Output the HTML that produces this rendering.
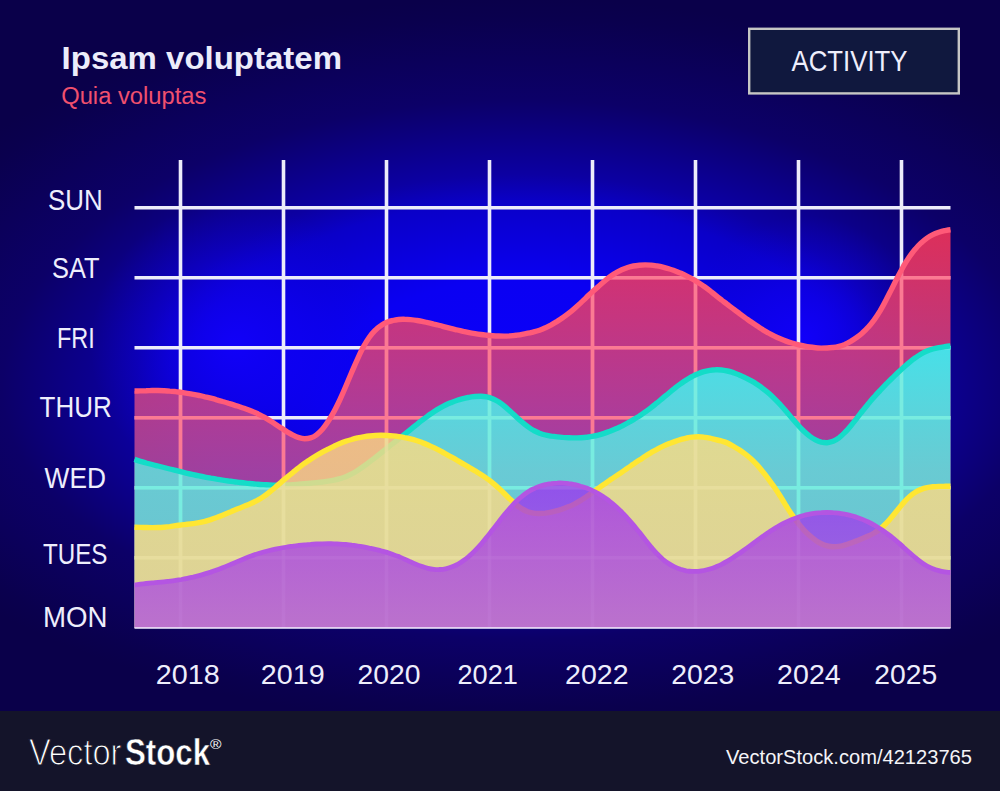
<!DOCTYPE html>
<html><head><meta charset="utf-8"><title>Activity chart</title>
<style>
html,body{margin:0;padding:0;background:#14142a;}
svg{display:block;font-family:"Liberation Sans",sans-serif;}
</style></head><body>
<svg width="1000" height="791" viewBox="0 0 1000 791">
<defs>
<radialGradient id="bg" gradientUnits="userSpaceOnUse" cx="520" cy="390" r="700" gradientTransform="translate(0 390) scale(1 0.56) translate(0 -390)">
<stop offset="0" stop-color="#0b00fc"/><stop offset="0.28" stop-color="#0a00f2"/><stop offset="0.48" stop-color="#0a00c8"/><stop offset="0.55" stop-color="#0c00a2"/><stop offset="0.74" stop-color="#0c0068"/><stop offset="0.95" stop-color="#0a004e"/><stop offset="1" stop-color="#0a004a"/>
</radialGradient>
<radialGradient id="bg2" gradientUnits="userSpaceOnUse" cx="520" cy="390" r="700" gradientTransform="translate(0 390) scale(1 0.48) translate(0 -390)">
<stop offset="0" stop-color="#0b00fc"/><stop offset="0.28" stop-color="#0a00f2"/><stop offset="0.48" stop-color="#0a00c8"/><stop offset="0.55" stop-color="#0c00a2"/><stop offset="0.74" stop-color="#0c0068"/><stop offset="0.95" stop-color="#0a004e"/><stop offset="1" stop-color="#0a004a"/>
</radialGradient>
<linearGradient id="gp" gradientUnits="userSpaceOnUse" x1="0" y1="230" x2="0" y2="628">
<stop offset="0" stop-color="#f43458" stop-opacity="0.9"/><stop offset="0.6" stop-color="#b84a9a" stop-opacity="0.86"/><stop offset="1" stop-color="#a452ac" stop-opacity="0.82"/>
</linearGradient>
<linearGradient id="gc" gradientUnits="userSpaceOnUse" x1="0" y1="347" x2="0" y2="628">
<stop offset="0" stop-color="#40e9ee" stop-opacity="0.95"/><stop offset="0.44" stop-color="#5fe3dd" stop-opacity="0.85"/><stop offset="1" stop-color="#66dcd8" stop-opacity="0.82"/>
</linearGradient>
<linearGradient id="gy" gradientUnits="userSpaceOnUse" x1="0" y1="433" x2="0" y2="628">
<stop offset="0" stop-color="#fedc80" stop-opacity="0.8"/><stop offset="1" stop-color="#fad688" stop-opacity="0.8"/>
</linearGradient>
<linearGradient id="gv" gradientUnits="userSpaceOnUse" x1="0" y1="482" x2="0" y2="628">
<stop offset="0" stop-color="#9e2af2" stop-opacity="0.75"/><stop offset="1" stop-color="#af52df" stop-opacity="0.75"/>
</linearGradient>
<clipPath id="cp"><path d="M134.5,391.0C136.5,391.0 138.4,390.9 140.4,390.9C142.3,390.8 144.3,390.7 146.2,390.7C148.2,390.6 150.2,390.6 152.1,390.5C154.1,390.5 156.0,390.5 158.0,390.5C159.9,390.5 161.9,390.6 163.9,390.7C165.8,390.8 167.8,390.9 169.7,391.1C171.7,391.2 173.6,391.4 175.6,391.6C177.6,391.9 179.5,392.1 181.5,392.4C183.4,392.7 185.4,393.0 187.3,393.3C189.3,393.6 191.2,393.9 193.2,394.3C195.2,394.7 197.1,395.1 199.1,395.5C201.0,395.9 203.0,396.3 204.9,396.8C206.9,397.2 208.9,397.7 210.8,398.2C212.8,398.7 214.7,399.2 216.7,399.8C218.6,400.3 220.6,400.9 222.6,401.5C224.5,402.0 226.5,402.6 228.4,403.3C230.4,403.9 232.3,404.5 234.3,405.1C236.3,405.7 238.2,406.4 240.2,407.0C242.1,407.7 244.1,408.3 246.0,409.0C248.0,409.7 250.0,410.5 251.9,411.3C253.9,412.1 255.8,412.9 257.8,413.8C259.7,414.8 261.7,415.8 263.7,416.9C265.6,418.0 267.6,419.2 269.5,420.4C271.5,421.6 273.4,422.9 275.4,424.2C277.3,425.5 279.3,426.9 281.3,428.1C283.2,429.4 285.2,430.7 287.1,431.9C289.1,433.0 291.0,434.2 293.0,435.1C295.0,436.1 296.9,437.0 298.9,437.6C300.8,438.2 302.8,438.6 304.7,438.7C306.7,438.7 308.7,438.5 310.6,437.9C312.6,437.3 314.5,436.3 316.5,434.8C318.4,433.4 320.4,431.5 322.4,429.2C324.3,427.0 326.3,424.3 328.2,421.3C330.2,418.4 332.1,415.0 334.1,411.4C336.1,407.7 338.0,403.7 340.0,399.5C341.9,395.3 343.9,390.8 345.8,386.2C347.8,381.6 349.8,376.9 351.7,372.3C353.7,367.7 355.6,363.1 357.6,358.8C359.5,354.5 361.5,350.5 363.4,346.8C365.4,343.2 367.4,340.0 369.3,337.3C371.3,334.5 373.2,332.2 375.2,330.3C377.1,328.4 379.1,326.8 381.1,325.5C383.0,324.2 385.0,323.1 386.9,322.3C388.9,321.5 390.8,320.9 392.8,320.5C394.8,320.0 396.7,319.7 398.7,319.5C400.6,319.3 402.6,319.2 404.5,319.3C406.5,319.3 408.5,319.4 410.4,319.6C412.4,319.8 414.3,320.0 416.3,320.4C418.2,320.7 420.2,321.0 422.2,321.4C424.1,321.8 426.1,322.2 428.0,322.7C430.0,323.1 431.9,323.6 433.9,324.1C435.9,324.5 437.8,325.0 439.8,325.5C441.7,326.0 443.7,326.6 445.6,327.1C447.6,327.6 449.6,328.1 451.5,328.6C453.5,329.1 455.4,329.5 457.4,330.0C459.3,330.5 461.3,330.9 463.2,331.4C465.2,331.8 467.2,332.2 469.1,332.6C471.1,333.0 473.0,333.3 475.0,333.6C476.9,334.0 478.9,334.3 480.9,334.5C482.8,334.8 484.8,335.0 486.7,335.2C488.7,335.4 490.6,335.6 492.6,335.7C494.6,335.9 496.5,336.0 498.5,336.0C500.4,336.1 502.4,336.1 504.3,336.1C506.3,336.1 508.3,336.0 510.2,335.9C512.2,335.7 514.1,335.5 516.1,335.3C518.0,335.0 520.0,334.7 522.0,334.3C523.9,334.0 525.9,333.6 527.8,333.2C529.8,332.9 531.7,332.4 533.7,331.9C535.7,331.4 537.6,330.9 539.6,330.2C541.5,329.5 543.5,328.7 545.4,327.8C547.4,326.8 549.3,325.8 551.3,324.8C553.3,323.7 555.2,322.6 557.2,321.4C559.1,320.2 561.1,318.9 563.0,317.5C565.0,316.2 567.0,314.7 568.9,313.2C570.9,311.6 572.8,310.0 574.8,308.2C576.7,306.5 578.7,304.7 580.7,302.9C582.6,301.0 584.6,299.2 586.5,297.3C588.5,295.5 590.4,293.6 592.4,291.8C594.4,290.0 596.3,288.3 598.3,286.6C600.2,284.8 602.2,283.1 604.1,281.5C606.1,279.8 608.1,278.2 610.0,276.7C612.0,275.3 613.9,273.9 615.9,272.8C617.8,271.6 619.8,270.6 621.8,269.7C623.7,268.9 625.7,268.2 627.6,267.5C629.6,266.9 631.5,266.4 633.5,266.0C635.4,265.6 637.4,265.4 639.4,265.2C641.3,265.0 643.3,264.9 645.2,264.9C647.2,264.9 649.1,265.0 651.1,265.1C653.1,265.3 655.0,265.6 657.0,265.9C658.9,266.2 660.9,266.6 662.8,267.1C664.8,267.6 666.8,268.1 668.7,268.7C670.7,269.3 672.6,270.0 674.6,270.7C676.5,271.4 678.5,272.2 680.5,273.1C682.4,273.9 684.4,274.8 686.3,275.8C688.3,276.8 690.2,277.8 692.2,278.9C694.2,280.0 696.1,281.1 698.1,282.4C700.0,283.6 702.0,284.8 703.9,286.3C705.9,287.7 707.9,289.2 709.8,290.7C711.8,292.3 713.7,293.9 715.7,295.4C717.6,297.0 719.6,298.5 721.6,300.0C723.5,301.5 725.5,303.0 727.4,304.5C729.4,306.0 731.3,307.5 733.3,308.9C735.2,310.4 737.2,311.9 739.2,313.3C741.1,314.8 743.1,316.2 745.0,317.6C747.0,319.0 748.9,320.4 750.9,321.8C752.9,323.2 754.8,324.5 756.8,325.8C758.7,327.1 760.7,328.3 762.6,329.6C764.6,330.8 766.6,331.9 768.5,333.0C770.5,334.1 772.4,335.1 774.4,336.1C776.3,337.1 778.3,338.0 780.3,338.8C782.2,339.6 784.2,340.4 786.1,341.1C788.1,341.8 790.0,342.4 792.0,343.0C794.0,343.6 795.9,344.1 797.9,344.6C799.8,345.1 801.8,345.5 803.7,345.9C805.7,346.3 807.7,346.7 809.6,347.0C811.6,347.3 813.5,347.5 815.5,347.7C817.4,347.9 819.4,348.0 821.3,348.1C823.3,348.1 825.3,348.1 827.2,348.0C829.2,347.9 831.1,347.7 833.1,347.5C835.0,347.2 837.0,346.8 839.0,346.3C840.9,345.8 842.9,345.2 844.8,344.4C846.8,343.5 848.7,342.5 850.7,341.4C852.7,340.2 854.6,338.9 856.6,337.5C858.5,336.1 860.5,334.6 862.4,332.9C864.4,331.2 866.4,329.3 868.3,327.1C870.3,325.0 872.2,322.6 874.2,319.9C876.1,317.2 878.1,314.2 880.1,310.9C882.0,307.6 884.0,304.0 885.9,300.2C887.9,296.5 889.8,292.6 891.8,288.7C893.8,284.8 895.7,280.9 897.7,277.1C899.6,273.3 901.6,269.6 903.5,266.2C905.5,262.8 907.4,259.7 909.4,256.8C911.4,254.0 913.3,251.4 915.3,249.1C917.2,246.8 919.2,244.7 921.1,242.9C923.1,241.1 925.1,239.5 927.0,238.1C929.0,236.7 930.9,235.6 932.9,234.6C934.8,233.6 936.8,232.9 938.8,232.2C940.7,231.6 942.7,231.1 944.6,230.7C946.6,230.3 948.5,229.9 950.5,229.7L950.5,628.0L134.5,628.0Z"/></clipPath><clipPath id="cc"><path d="M134.5,459.4C136.5,460.1 138.4,460.7 140.4,461.3C142.3,461.9 144.3,462.4 146.2,463.0C148.2,463.5 150.2,464.0 152.1,464.5C154.1,465.1 156.0,465.5 158.0,466.0C159.9,466.5 161.9,467.0 163.9,467.5C165.8,468.0 167.8,468.5 169.7,469.0C171.7,469.5 173.6,469.9 175.6,470.4C177.6,470.9 179.5,471.4 181.5,471.9C183.4,472.4 185.4,472.8 187.3,473.3C189.3,473.8 191.2,474.2 193.2,474.6C195.2,475.1 197.1,475.5 199.1,475.9C201.0,476.3 203.0,476.7 204.9,477.1C206.9,477.5 208.9,477.8 210.8,478.2C212.8,478.5 214.7,478.8 216.7,479.2C218.6,479.5 220.6,479.8 222.6,480.1C224.5,480.4 226.5,480.7 228.4,481.0C230.4,481.2 232.3,481.5 234.3,481.8C236.3,482.0 238.2,482.3 240.2,482.5C242.1,482.7 244.1,482.9 246.0,483.1C248.0,483.4 250.0,483.5 251.9,483.7C253.9,483.9 255.8,484.1 257.8,484.2C259.7,484.4 261.7,484.5 263.7,484.6C265.6,484.7 267.6,484.8 269.5,484.9C271.5,485.0 273.4,485.1 275.4,485.1C277.3,485.1 279.3,485.1 281.3,485.1C283.2,485.1 285.2,485.1 287.1,485.0C289.1,484.9 291.0,484.8 293.0,484.7C295.0,484.6 296.9,484.5 298.9,484.3C300.8,484.2 302.8,484.0 304.7,483.8C306.7,483.6 308.7,483.4 310.6,483.2C312.6,483.0 314.5,482.8 316.5,482.6C318.4,482.4 320.4,482.2 322.4,482.0C324.3,481.8 326.3,481.5 328.2,481.2C330.2,480.9 332.1,480.6 334.1,480.2C336.1,479.8 338.0,479.3 340.0,478.7C341.9,478.1 343.9,477.5 345.8,476.7C347.8,475.9 349.8,474.9 351.7,473.9C353.7,472.8 355.6,471.7 357.6,470.4C359.5,469.2 361.5,467.9 363.4,466.5C365.4,465.1 367.4,463.6 369.3,462.1C371.3,460.6 373.2,459.1 375.2,457.6C377.1,456.0 379.1,454.5 381.1,452.9C383.0,451.4 385.0,449.8 386.9,448.3C388.9,446.7 390.8,445.2 392.8,443.7C394.8,442.1 396.7,440.6 398.7,439.0C400.6,437.4 402.6,435.9 404.5,434.3C406.5,432.7 408.5,431.2 410.4,429.6C412.4,428.0 414.3,426.4 416.3,424.8C418.2,423.3 420.2,421.7 422.2,420.2C424.1,418.7 426.1,417.2 428.0,415.8C430.0,414.4 431.9,413.0 433.9,411.7C435.9,410.4 437.8,409.2 439.8,408.1C441.7,407.0 443.7,405.9 445.6,405.0C447.6,404.0 449.6,403.2 451.5,402.4C453.5,401.6 455.4,400.9 457.4,400.2C459.3,399.6 461.3,399.1 463.2,398.6C465.2,398.1 467.2,397.7 469.1,397.3C471.1,396.9 473.0,396.7 475.0,396.5C476.9,396.3 478.9,396.2 480.9,396.2C482.8,396.2 484.8,396.5 486.7,396.9C488.7,397.3 490.6,397.9 492.6,398.7C494.6,399.6 496.5,400.6 498.5,401.8C500.4,403.1 502.4,404.5 504.3,406.1C506.3,407.8 508.3,409.5 510.2,411.3C512.2,413.1 514.1,414.9 516.1,416.7C518.0,418.5 520.0,420.3 522.0,422.0C523.9,423.7 525.9,425.3 527.8,426.7C529.8,428.2 531.7,429.4 533.7,430.5C535.7,431.5 537.6,432.4 539.6,433.2C541.5,433.9 543.5,434.5 545.4,435.0C547.4,435.5 549.3,435.8 551.3,436.2C553.3,436.5 555.2,436.7 557.2,436.9C559.1,437.1 561.1,437.2 563.0,437.4C565.0,437.5 567.0,437.6 568.9,437.7C570.9,437.8 572.8,437.9 574.8,437.9C576.7,437.9 578.7,437.8 580.7,437.7C582.6,437.6 584.6,437.5 586.5,437.3C588.5,437.0 590.4,436.8 592.4,436.4C594.4,436.0 596.3,435.6 598.3,435.1C600.2,434.6 602.2,434.0 604.1,433.4C606.1,432.7 608.1,432.0 610.0,431.3C612.0,430.5 613.9,429.7 615.9,428.8C617.8,428.0 619.8,427.0 621.8,426.1C623.7,425.1 625.7,424.1 627.6,423.0C629.6,421.9 631.5,420.8 633.5,419.6C635.4,418.5 637.4,417.2 639.4,416.0C641.3,414.7 643.3,413.3 645.2,411.9C647.2,410.6 649.1,409.1 651.1,407.6C653.1,406.1 655.0,404.5 657.0,402.9C658.9,401.3 660.9,399.7 662.8,398.1C664.8,396.4 666.8,394.8 668.7,393.2C670.7,391.5 672.6,389.9 674.6,388.4C676.5,386.8 678.5,385.3 680.5,383.9C682.4,382.5 684.4,381.2 686.3,379.9C688.3,378.7 690.2,377.5 692.2,376.5C694.2,375.4 696.1,374.5 698.1,373.7C700.0,372.9 702.0,372.2 703.9,371.6C705.9,371.1 707.9,370.6 709.8,370.3C711.8,370.0 713.7,369.8 715.7,369.8C717.6,369.7 719.6,369.8 721.6,370.0C723.5,370.2 725.5,370.6 727.4,371.0C729.4,371.4 731.3,372.0 733.3,372.6C735.2,373.3 737.2,374.0 739.2,374.9C741.1,375.7 743.1,376.6 745.0,377.6C747.0,378.5 748.9,379.6 750.9,380.7C752.9,381.8 754.8,382.9 756.8,384.2C758.7,385.5 760.7,386.8 762.6,388.3C764.6,389.8 766.6,391.4 768.5,393.1C770.5,394.9 772.4,396.7 774.4,398.7C776.3,400.6 778.3,402.6 780.3,404.7C782.2,406.8 784.2,409.0 786.1,411.3C788.1,413.5 790.0,415.9 792.0,418.2C794.0,420.5 795.9,422.8 797.9,424.9C799.8,427.1 801.8,429.1 803.7,431.0C805.7,432.9 807.7,434.6 809.6,436.1C811.6,437.6 813.5,438.8 815.5,439.9C817.4,440.9 819.4,441.7 821.3,442.2C823.3,442.6 825.3,442.8 827.2,442.7C829.2,442.6 831.1,442.1 833.1,441.3C835.0,440.5 837.0,439.3 839.0,437.8C840.9,436.3 842.9,434.5 844.8,432.5C846.8,430.5 848.7,428.3 850.7,425.9C852.7,423.5 854.6,421.1 856.6,418.6C858.5,416.0 860.5,413.5 862.4,411.0C864.4,408.5 866.4,406.1 868.3,403.7C870.3,401.4 872.2,399.1 874.2,396.9C876.1,394.7 878.1,392.5 880.1,390.5C882.0,388.4 884.0,386.3 885.9,384.3C887.9,382.4 889.8,380.4 891.8,378.5C893.8,376.6 895.7,374.7 897.7,372.8C899.6,371.0 901.6,369.1 903.5,367.4C905.5,365.6 907.4,363.9 909.4,362.3C911.4,360.7 913.3,359.2 915.3,357.8C917.2,356.4 919.2,355.1 921.1,354.0C923.1,352.8 925.1,351.8 927.0,351.0C929.0,350.2 930.9,349.6 932.9,349.0C934.8,348.5 936.8,348.1 938.8,347.7C940.7,347.3 942.7,347.0 944.6,346.7C946.6,346.4 948.5,346.1 950.5,345.8L950.5,628.0L134.5,628.0Z"/></clipPath><clipPath id="cy"><path d="M134.5,527.3C136.5,527.3 138.4,527.3 140.4,527.4C142.3,527.4 144.3,527.5 146.2,527.5C148.2,527.6 150.2,527.6 152.1,527.6C154.1,527.6 156.0,527.6 158.0,527.5C159.9,527.5 161.9,527.4 163.9,527.2C165.8,527.0 167.8,526.8 169.7,526.6C171.7,526.3 173.6,526.0 175.6,525.7C177.6,525.4 179.5,525.2 181.5,524.9C183.4,524.7 185.4,524.5 187.3,524.3C189.3,524.1 191.2,523.9 193.2,523.6C195.2,523.4 197.1,523.1 199.1,522.7C201.0,522.4 203.0,521.9 204.9,521.4C206.9,520.8 208.9,520.2 210.8,519.6C212.8,518.9 214.7,518.2 216.7,517.5C218.6,516.8 220.6,516.0 222.6,515.2C224.5,514.4 226.5,513.6 228.4,512.8C230.4,512.0 232.3,511.2 234.3,510.3C236.3,509.5 238.2,508.7 240.2,507.9C242.1,507.1 244.1,506.4 246.0,505.6C248.0,504.8 250.0,503.9 251.9,503.0C253.9,502.2 255.8,501.3 257.8,500.2C259.7,499.1 261.7,497.9 263.7,496.5C265.6,495.2 267.6,493.7 269.5,492.1C271.5,490.5 273.4,488.9 275.4,487.2C277.3,485.5 279.3,483.8 281.3,482.1C283.2,480.4 285.2,478.8 287.1,477.2C289.1,475.6 291.0,473.9 293.0,472.4C295.0,470.8 296.9,469.2 298.9,467.7C300.8,466.1 302.8,464.6 304.7,463.2C306.7,461.8 308.7,460.5 310.6,459.2C312.6,457.9 314.5,456.7 316.5,455.5C318.4,454.4 320.4,453.3 322.4,452.2C324.3,451.1 326.3,450.1 328.2,449.1C330.2,448.1 332.1,447.1 334.1,446.2C336.1,445.2 338.0,444.4 340.0,443.6C341.9,442.8 343.9,442.0 345.8,441.3C347.8,440.6 349.8,440.0 351.7,439.5C353.7,438.9 355.6,438.4 357.6,437.9C359.5,437.5 361.5,437.1 363.4,436.8C365.4,436.5 367.4,436.2 369.3,436.0C371.3,435.8 373.2,435.6 375.2,435.5C377.1,435.4 379.1,435.3 381.1,435.3C383.0,435.3 385.0,435.4 386.9,435.5C388.9,435.6 390.8,435.7 392.8,435.9C394.8,436.1 396.7,436.3 398.7,436.6C400.6,436.9 402.6,437.2 404.5,437.6C406.5,437.9 408.5,438.4 410.4,438.9C412.4,439.4 414.3,439.9 416.3,440.5C418.2,441.1 420.2,441.8 422.2,442.6C424.1,443.3 426.1,444.1 428.0,445.0C430.0,445.9 431.9,446.8 433.9,447.7C435.9,448.7 437.8,449.7 439.8,450.7C441.7,451.7 443.7,452.8 445.6,453.8C447.6,454.9 449.6,456.0 451.5,457.1C453.5,458.2 455.4,459.3 457.4,460.5C459.3,461.6 461.3,462.7 463.2,463.9C465.2,465.0 467.2,466.2 469.1,467.4C471.1,468.5 473.0,469.7 475.0,470.8C476.9,472.0 478.9,473.2 480.9,474.5C482.8,475.7 484.8,477.0 486.7,478.4C488.7,479.8 490.6,481.2 492.6,482.8C494.6,484.4 496.5,486.1 498.5,487.9C500.4,489.7 502.4,491.6 504.3,493.5C506.3,495.5 508.3,497.4 510.2,499.3C512.2,501.1 514.1,502.9 516.1,504.6C518.0,506.2 520.0,507.7 522.0,508.9C523.9,510.1 525.9,511.0 527.8,511.7C529.8,512.4 531.7,512.9 533.7,513.2C535.7,513.5 537.6,513.6 539.6,513.5C541.5,513.5 543.5,513.3 545.4,513.1C547.4,512.8 549.3,512.5 551.3,512.1C553.3,511.7 555.2,511.2 557.2,510.7C559.1,510.1 561.1,509.5 563.0,508.8C565.0,508.2 567.0,507.4 568.9,506.6C570.9,505.7 572.8,504.8 574.8,503.8C576.7,502.7 578.7,501.6 580.7,500.4C582.6,499.2 584.6,498.0 586.5,496.6C588.5,495.3 590.4,493.9 592.4,492.5C594.4,491.1 596.3,489.7 598.3,488.3C600.2,486.9 602.2,485.5 604.1,484.2C606.1,482.8 608.1,481.5 610.0,480.1C612.0,478.8 613.9,477.5 615.9,476.1C617.8,474.8 619.8,473.5 621.8,472.2C623.7,470.8 625.7,469.5 627.6,468.1C629.6,466.8 631.5,465.4 633.5,464.1C635.4,462.7 637.4,461.4 639.4,460.1C641.3,458.8 643.3,457.5 645.2,456.2C647.2,455.0 649.1,453.8 651.1,452.6C653.1,451.5 655.0,450.4 657.0,449.4C658.9,448.3 660.9,447.3 662.8,446.4C664.8,445.5 666.8,444.6 668.7,443.8C670.7,443.0 672.6,442.3 674.6,441.6C676.5,440.9 678.5,440.2 680.5,439.6C682.4,439.1 684.4,438.5 686.3,438.1C688.3,437.7 690.2,437.3 692.2,437.1C694.2,436.9 696.1,436.8 698.1,436.8C700.0,436.8 702.0,436.9 703.9,437.2C705.9,437.4 707.9,437.7 709.8,438.1C711.8,438.5 713.7,439.1 715.7,439.6C717.6,440.2 719.6,440.5 721.6,441.0C723.5,441.5 725.5,442.0 727.4,443.0C729.4,444.0 731.3,445.1 733.3,446.3C735.2,447.4 737.2,448.6 739.2,449.8C741.1,451.1 743.1,452.5 745.0,453.9C747.0,455.4 748.9,457.0 750.9,458.8C752.9,460.6 754.8,462.5 756.8,464.6C758.7,466.7 760.7,469.0 762.6,471.5C764.6,473.9 766.6,476.5 768.5,479.1C770.5,481.8 772.4,484.5 774.4,487.3C776.3,490.1 778.3,493.1 780.3,496.2C782.2,499.4 784.2,502.6 786.1,505.8C788.1,508.9 790.0,512.0 792.0,514.9C794.0,517.8 795.9,520.3 797.9,522.8C799.8,525.3 801.8,527.6 803.7,529.8C805.7,531.9 807.7,533.9 809.6,535.6C811.6,537.4 813.5,539.0 815.5,540.3C817.4,541.7 819.4,542.8 821.3,543.7C823.3,544.7 825.3,545.4 827.2,545.9C829.2,546.4 831.1,546.7 833.1,546.8C835.0,546.8 837.0,546.7 839.0,546.4C840.9,546.1 842.9,545.7 844.8,545.1C846.8,544.5 848.7,543.9 850.7,543.1C852.7,542.4 854.6,541.6 856.6,540.9C858.5,540.1 860.5,539.3 862.4,538.5C864.4,537.7 866.4,536.9 868.3,536.0C870.3,535.1 872.2,534.1 874.2,533.0C876.1,531.8 878.1,530.5 880.1,529.0C882.0,527.4 884.0,525.7 885.9,523.6C887.9,521.6 889.8,519.4 891.8,517.0C893.8,514.7 895.7,512.2 897.7,509.8C899.6,507.4 901.6,505.0 903.5,502.7C905.5,500.5 907.4,498.4 909.4,496.7C911.4,494.9 913.3,493.4 915.3,492.2C917.2,491.0 919.2,490.1 921.1,489.4C923.1,488.6 925.1,488.1 927.0,487.7C929.0,487.3 930.9,487.0 932.9,486.8C934.8,486.7 936.8,486.5 938.8,486.4C940.7,486.3 942.7,486.3 944.6,486.3C946.6,486.2 948.5,486.3 950.5,486.3L950.5,628.0L134.5,628.0Z"/></clipPath><clipPath id="cv"><path d="M134.5,585.0C136.5,584.7 138.4,584.4 140.4,584.1C142.3,583.9 144.3,583.7 146.2,583.5C148.2,583.3 150.2,583.1 152.1,582.9C154.1,582.7 156.0,582.6 158.0,582.4C159.9,582.2 161.9,582.0 163.9,581.8C165.8,581.7 167.8,581.4 169.7,581.2C171.7,580.9 173.6,580.7 175.6,580.4C177.6,580.1 179.5,579.8 181.5,579.5C183.4,579.1 185.4,578.7 187.3,578.3C189.3,577.9 191.2,577.5 193.2,577.1C195.2,576.6 197.1,576.1 199.1,575.6C201.0,575.1 203.0,574.5 204.9,573.9C206.9,573.3 208.9,572.7 210.8,572.1C212.8,571.4 214.7,570.7 216.7,570.0C218.6,569.3 220.6,568.6 222.6,567.8C224.5,567.0 226.5,566.2 228.4,565.4C230.4,564.6 232.3,563.7 234.3,562.9C236.3,562.1 238.2,561.2 240.2,560.4C242.1,559.6 244.1,558.8 246.0,558.0C248.0,557.2 250.0,556.5 251.9,555.8C253.9,555.1 255.8,554.4 257.8,553.8C259.7,553.2 261.7,552.6 263.7,552.0C265.6,551.5 267.6,551.0 269.5,550.5C271.5,550.0 273.4,549.6 275.4,549.2C277.3,548.8 279.3,548.4 281.3,548.0C283.2,547.7 285.2,547.3 287.1,547.0C289.1,546.7 291.0,546.4 293.0,546.2C295.0,545.9 296.9,545.7 298.9,545.4C300.8,545.2 302.8,545.0 304.7,544.8C306.7,544.7 308.7,544.5 310.6,544.4C312.6,544.2 314.5,544.1 316.5,544.0C318.4,543.9 320.4,543.8 322.4,543.8C324.3,543.7 326.3,543.7 328.2,543.7C330.2,543.7 332.1,543.8 334.1,543.8C336.1,543.9 338.0,544.0 340.0,544.1C341.9,544.2 343.9,544.4 345.8,544.5C347.8,544.7 349.8,544.9 351.7,545.2C353.7,545.4 355.6,545.7 357.6,546.0C359.5,546.3 361.5,546.6 363.4,546.9C365.4,547.3 367.4,547.7 369.3,548.1C371.3,548.4 373.2,548.9 375.2,549.3C377.1,549.8 379.1,550.2 381.1,550.8C383.0,551.3 385.0,551.8 386.9,552.4C388.9,553.0 390.8,553.7 392.8,554.4C394.8,555.1 396.7,555.8 398.7,556.6C400.6,557.4 402.6,558.2 404.5,559.1C406.5,560.0 408.5,560.9 410.4,561.8C412.4,562.7 414.3,563.5 416.3,564.4C418.2,565.2 420.2,565.9 422.2,566.6C424.1,567.3 426.1,567.9 428.0,568.3C430.0,568.8 431.9,569.1 433.9,569.3C435.9,569.5 437.8,569.6 439.8,569.5C441.7,569.4 443.7,569.2 445.6,568.8C447.6,568.4 449.6,567.8 451.5,567.1C453.5,566.4 455.4,565.5 457.4,564.5C459.3,563.4 461.3,562.2 463.2,560.8C465.2,559.4 467.2,557.9 469.1,556.2C471.1,554.5 473.0,552.6 475.0,550.6C476.9,548.7 478.9,546.6 480.9,544.3C482.8,542.1 484.8,539.8 486.7,537.3C488.7,534.9 490.6,532.3 492.6,529.8C494.6,527.2 496.5,524.7 498.5,522.2C500.4,519.7 502.4,517.2 504.3,514.8C506.3,512.4 508.3,510.1 510.2,507.9C512.2,505.7 514.1,503.5 516.1,501.6C518.0,499.6 520.0,497.8 522.0,496.3C523.9,494.7 525.9,493.3 527.8,492.0C529.8,490.8 531.7,489.7 533.7,488.8C535.7,487.8 537.6,487.0 539.6,486.3C541.5,485.7 543.5,485.1 545.4,484.6C547.4,484.2 549.3,483.8 551.3,483.6C553.3,483.3 555.2,483.1 557.2,483.1C559.1,483.0 561.1,483.0 563.0,483.1C565.0,483.2 567.0,483.4 568.9,483.7C570.9,483.9 572.8,484.3 574.8,484.7C576.7,485.1 578.7,485.6 580.7,486.2C582.6,486.7 584.6,487.4 586.5,488.1C588.5,488.8 590.4,489.7 592.4,490.6C594.4,491.5 596.3,492.5 598.3,493.6C600.2,494.7 602.2,496.0 604.1,497.3C606.1,498.6 608.1,500.0 610.0,501.6C612.0,503.1 613.9,504.8 615.9,506.5C617.8,508.3 619.8,510.2 621.8,512.1C623.7,514.1 625.7,516.1 627.6,518.3C629.6,520.5 631.5,522.7 633.5,525.1C635.4,527.4 637.4,529.9 639.4,532.3C641.3,534.8 643.3,537.3 645.2,539.8C647.2,542.3 649.1,544.7 651.1,547.1C653.1,549.4 655.0,551.7 657.0,553.7C658.9,555.8 660.9,557.6 662.8,559.3C664.8,560.9 666.8,562.4 668.7,563.6C670.7,564.9 672.6,566.0 674.6,566.9C676.5,567.8 678.5,568.6 680.5,569.3C682.4,569.9 684.4,570.4 686.3,570.8C688.3,571.1 690.2,571.3 692.2,571.4C694.2,571.5 696.1,571.5 698.1,571.3C700.0,571.1 702.0,570.9 703.9,570.5C705.9,570.1 707.9,569.6 709.8,569.0C711.8,568.4 713.7,567.7 715.7,566.9C717.6,566.1 719.6,565.3 721.6,564.3C723.5,563.3 725.5,562.2 727.4,561.1C729.4,560.0 731.3,558.8 733.3,557.5C735.2,556.2 737.2,554.9 739.2,553.6C741.1,552.2 743.1,550.8 745.0,549.4C747.0,548.0 748.9,546.6 750.9,545.1C752.9,543.7 754.8,542.2 756.8,540.8C758.7,539.4 760.7,537.9 762.6,536.5C764.6,535.1 766.6,533.8 768.5,532.4C770.5,531.1 772.4,529.8 774.4,528.6C776.3,527.4 778.3,526.2 780.3,525.1C782.2,524.0 784.2,523.0 786.1,522.1C788.1,521.1 790.0,520.3 792.0,519.5C794.0,518.7 795.9,518.0 797.9,517.3C799.8,516.7 801.8,516.1 803.7,515.5C805.7,515.0 807.7,514.6 809.6,514.2C811.6,513.8 813.5,513.5 815.5,513.2C817.4,513.0 819.4,512.8 821.3,512.7C823.3,512.5 825.3,512.5 827.2,512.5C829.2,512.5 831.1,512.5 833.1,512.7C835.0,512.8 837.0,513.0 839.0,513.2C840.9,513.5 842.9,513.8 844.8,514.2C846.8,514.5 848.7,515.0 850.7,515.5C852.7,516.0 854.6,516.6 856.6,517.2C858.5,517.9 860.5,518.6 862.4,519.4C864.4,520.2 866.4,521.1 868.3,522.0C870.3,523.0 872.2,524.0 874.2,525.1C876.1,526.2 878.1,527.4 880.1,528.7C882.0,530.0 884.0,531.3 885.9,532.7C887.9,534.1 889.8,535.6 891.8,537.1C893.8,538.7 895.7,540.3 897.7,542.0C899.6,543.7 901.6,545.4 903.5,547.2C905.5,549.0 907.4,550.8 909.4,552.5C911.4,554.3 913.3,556.0 915.3,557.6C917.2,559.3 919.2,560.8 921.1,562.2C923.1,563.7 925.1,564.9 927.0,566.0C929.0,567.1 930.9,568.1 932.9,568.8C934.8,569.6 936.8,570.2 938.8,570.7C940.7,571.2 942.7,571.6 944.6,571.9C946.6,572.2 948.5,572.3 950.5,572.5L950.5,628.0L134.5,628.0Z"/></clipPath>
<radialGradient id="gl" gradientUnits="userSpaceOnUse" cx="0" cy="0" r="170"><stop offset="0" stop-color="#1200ff" stop-opacity="0.85"/><stop offset="0.45" stop-color="#1000f8" stop-opacity="0.5"/><stop offset="1" stop-color="#0c00e0" stop-opacity="0"/></radialGradient>
</defs>
<rect x="0" y="0" width="1000" height="391" fill="url(#bg)"/><rect x="0" y="390" width="1000" height="322" fill="url(#bg2)"/>
<circle cx="0" cy="0" r="170" fill="url(#gl)" transform="translate(235 345) scale(0.85)"/><circle cx="0" cy="0" r="170" fill="url(#gl)" transform="translate(805 338) scale(0.72)"/>
<g stroke="#ececfa" stroke-width="3.6" stroke-linecap="butt"><line x1="180.5" y1="160" x2="180.5" y2="628.0"/><line x1="283.5" y1="160" x2="283.5" y2="628.0"/><line x1="386.5" y1="160" x2="386.5" y2="628.0"/><line x1="489.5" y1="160" x2="489.5" y2="628.0"/><line x1="592.5" y1="160" x2="592.5" y2="628.0"/><line x1="695.5" y1="160" x2="695.5" y2="628.0"/><line x1="798.5" y1="160" x2="798.5" y2="628.0"/><line x1="901.5" y1="160" x2="901.5" y2="628.0"/><line x1="134.5" y1="207.7" x2="950.5" y2="207.7"/><line x1="134.5" y1="277.7" x2="950.5" y2="277.7"/><line x1="134.5" y1="347.7" x2="950.5" y2="347.7"/><line x1="134.5" y1="417.7" x2="950.5" y2="417.7"/><line x1="134.5" y1="487.7" x2="950.5" y2="487.7"/><line x1="134.5" y1="557.7" x2="950.5" y2="557.7"/></g>
<path d="M134.5,391.0C136.5,391.0 138.4,390.9 140.4,390.9C142.3,390.8 144.3,390.7 146.2,390.7C148.2,390.6 150.2,390.6 152.1,390.5C154.1,390.5 156.0,390.5 158.0,390.5C159.9,390.5 161.9,390.6 163.9,390.7C165.8,390.8 167.8,390.9 169.7,391.1C171.7,391.2 173.6,391.4 175.6,391.6C177.6,391.9 179.5,392.1 181.5,392.4C183.4,392.7 185.4,393.0 187.3,393.3C189.3,393.6 191.2,393.9 193.2,394.3C195.2,394.7 197.1,395.1 199.1,395.5C201.0,395.9 203.0,396.3 204.9,396.8C206.9,397.2 208.9,397.7 210.8,398.2C212.8,398.7 214.7,399.2 216.7,399.8C218.6,400.3 220.6,400.9 222.6,401.5C224.5,402.0 226.5,402.6 228.4,403.3C230.4,403.9 232.3,404.5 234.3,405.1C236.3,405.7 238.2,406.4 240.2,407.0C242.1,407.7 244.1,408.3 246.0,409.0C248.0,409.7 250.0,410.5 251.9,411.3C253.9,412.1 255.8,412.9 257.8,413.8C259.7,414.8 261.7,415.8 263.7,416.9C265.6,418.0 267.6,419.2 269.5,420.4C271.5,421.6 273.4,422.9 275.4,424.2C277.3,425.5 279.3,426.9 281.3,428.1C283.2,429.4 285.2,430.7 287.1,431.9C289.1,433.0 291.0,434.2 293.0,435.1C295.0,436.1 296.9,437.0 298.9,437.6C300.8,438.2 302.8,438.6 304.7,438.7C306.7,438.7 308.7,438.5 310.6,437.9C312.6,437.3 314.5,436.3 316.5,434.8C318.4,433.4 320.4,431.5 322.4,429.2C324.3,427.0 326.3,424.3 328.2,421.3C330.2,418.4 332.1,415.0 334.1,411.4C336.1,407.7 338.0,403.7 340.0,399.5C341.9,395.3 343.9,390.8 345.8,386.2C347.8,381.6 349.8,376.9 351.7,372.3C353.7,367.7 355.6,363.1 357.6,358.8C359.5,354.5 361.5,350.5 363.4,346.8C365.4,343.2 367.4,340.0 369.3,337.3C371.3,334.5 373.2,332.2 375.2,330.3C377.1,328.4 379.1,326.8 381.1,325.5C383.0,324.2 385.0,323.1 386.9,322.3C388.9,321.5 390.8,320.9 392.8,320.5C394.8,320.0 396.7,319.7 398.7,319.5C400.6,319.3 402.6,319.2 404.5,319.3C406.5,319.3 408.5,319.4 410.4,319.6C412.4,319.8 414.3,320.0 416.3,320.4C418.2,320.7 420.2,321.0 422.2,321.4C424.1,321.8 426.1,322.2 428.0,322.7C430.0,323.1 431.9,323.6 433.9,324.1C435.9,324.5 437.8,325.0 439.8,325.5C441.7,326.0 443.7,326.6 445.6,327.1C447.6,327.6 449.6,328.1 451.5,328.6C453.5,329.1 455.4,329.5 457.4,330.0C459.3,330.5 461.3,330.9 463.2,331.4C465.2,331.8 467.2,332.2 469.1,332.6C471.1,333.0 473.0,333.3 475.0,333.6C476.9,334.0 478.9,334.3 480.9,334.5C482.8,334.8 484.8,335.0 486.7,335.2C488.7,335.4 490.6,335.6 492.6,335.7C494.6,335.9 496.5,336.0 498.5,336.0C500.4,336.1 502.4,336.1 504.3,336.1C506.3,336.1 508.3,336.0 510.2,335.9C512.2,335.7 514.1,335.5 516.1,335.3C518.0,335.0 520.0,334.7 522.0,334.3C523.9,334.0 525.9,333.6 527.8,333.2C529.8,332.9 531.7,332.4 533.7,331.9C535.7,331.4 537.6,330.9 539.6,330.2C541.5,329.5 543.5,328.7 545.4,327.8C547.4,326.8 549.3,325.8 551.3,324.8C553.3,323.7 555.2,322.6 557.2,321.4C559.1,320.2 561.1,318.9 563.0,317.5C565.0,316.2 567.0,314.7 568.9,313.2C570.9,311.6 572.8,310.0 574.8,308.2C576.7,306.5 578.7,304.7 580.7,302.9C582.6,301.0 584.6,299.2 586.5,297.3C588.5,295.5 590.4,293.6 592.4,291.8C594.4,290.0 596.3,288.3 598.3,286.6C600.2,284.8 602.2,283.1 604.1,281.5C606.1,279.8 608.1,278.2 610.0,276.7C612.0,275.3 613.9,273.9 615.9,272.8C617.8,271.6 619.8,270.6 621.8,269.7C623.7,268.9 625.7,268.2 627.6,267.5C629.6,266.9 631.5,266.4 633.5,266.0C635.4,265.6 637.4,265.4 639.4,265.2C641.3,265.0 643.3,264.9 645.2,264.9C647.2,264.9 649.1,265.0 651.1,265.1C653.1,265.3 655.0,265.6 657.0,265.9C658.9,266.2 660.9,266.6 662.8,267.1C664.8,267.6 666.8,268.1 668.7,268.7C670.7,269.3 672.6,270.0 674.6,270.7C676.5,271.4 678.5,272.2 680.5,273.1C682.4,273.9 684.4,274.8 686.3,275.8C688.3,276.8 690.2,277.8 692.2,278.9C694.2,280.0 696.1,281.1 698.1,282.4C700.0,283.6 702.0,284.8 703.9,286.3C705.9,287.7 707.9,289.2 709.8,290.7C711.8,292.3 713.7,293.9 715.7,295.4C717.6,297.0 719.6,298.5 721.6,300.0C723.5,301.5 725.5,303.0 727.4,304.5C729.4,306.0 731.3,307.5 733.3,308.9C735.2,310.4 737.2,311.9 739.2,313.3C741.1,314.8 743.1,316.2 745.0,317.6C747.0,319.0 748.9,320.4 750.9,321.8C752.9,323.2 754.8,324.5 756.8,325.8C758.7,327.1 760.7,328.3 762.6,329.6C764.6,330.8 766.6,331.9 768.5,333.0C770.5,334.1 772.4,335.1 774.4,336.1C776.3,337.1 778.3,338.0 780.3,338.8C782.2,339.6 784.2,340.4 786.1,341.1C788.1,341.8 790.0,342.4 792.0,343.0C794.0,343.6 795.9,344.1 797.9,344.6C799.8,345.1 801.8,345.5 803.7,345.9C805.7,346.3 807.7,346.7 809.6,347.0C811.6,347.3 813.5,347.5 815.5,347.7C817.4,347.9 819.4,348.0 821.3,348.1C823.3,348.1 825.3,348.1 827.2,348.0C829.2,347.9 831.1,347.7 833.1,347.5C835.0,347.2 837.0,346.8 839.0,346.3C840.9,345.8 842.9,345.2 844.8,344.4C846.8,343.5 848.7,342.5 850.7,341.4C852.7,340.2 854.6,338.9 856.6,337.5C858.5,336.1 860.5,334.6 862.4,332.9C864.4,331.2 866.4,329.3 868.3,327.1C870.3,325.0 872.2,322.6 874.2,319.9C876.1,317.2 878.1,314.2 880.1,310.9C882.0,307.6 884.0,304.0 885.9,300.2C887.9,296.5 889.8,292.6 891.8,288.7C893.8,284.8 895.7,280.9 897.7,277.1C899.6,273.3 901.6,269.6 903.5,266.2C905.5,262.8 907.4,259.7 909.4,256.8C911.4,254.0 913.3,251.4 915.3,249.1C917.2,246.8 919.2,244.7 921.1,242.9C923.1,241.1 925.1,239.5 927.0,238.1C929.0,236.7 930.9,235.6 932.9,234.6C934.8,233.6 936.8,232.9 938.8,232.2C940.7,231.6 942.7,231.1 944.6,230.7C946.6,230.3 948.5,229.9 950.5,229.7L950.5,628.0L134.5,628.0Z" fill="url(#gp)"/><g clip-path="url(#cp)" stroke="#fb7a93" stroke-width="3.6"><line x1="180.5" y1="160" x2="180.5" y2="628.0"/><line x1="283.5" y1="160" x2="283.5" y2="628.0"/><line x1="386.5" y1="160" x2="386.5" y2="628.0"/><line x1="489.5" y1="160" x2="489.5" y2="628.0"/><line x1="592.5" y1="160" x2="592.5" y2="628.0"/><line x1="695.5" y1="160" x2="695.5" y2="628.0"/><line x1="798.5" y1="160" x2="798.5" y2="628.0"/><line x1="901.5" y1="160" x2="901.5" y2="628.0"/><line x1="134.5" y1="207.7" x2="950.5" y2="207.7"/><line x1="134.5" y1="277.7" x2="950.5" y2="277.7"/><line x1="134.5" y1="347.7" x2="950.5" y2="347.7"/><line x1="134.5" y1="417.7" x2="950.5" y2="417.7"/><line x1="134.5" y1="487.7" x2="950.5" y2="487.7"/><line x1="134.5" y1="557.7" x2="950.5" y2="557.7"/></g>
<path d="M134.5,391.0C136.5,391.0 138.4,390.9 140.4,390.9C142.3,390.8 144.3,390.7 146.2,390.7C148.2,390.6 150.2,390.6 152.1,390.5C154.1,390.5 156.0,390.5 158.0,390.5C159.9,390.5 161.9,390.6 163.9,390.7C165.8,390.8 167.8,390.9 169.7,391.1C171.7,391.2 173.6,391.4 175.6,391.6C177.6,391.9 179.5,392.1 181.5,392.4C183.4,392.7 185.4,393.0 187.3,393.3C189.3,393.6 191.2,393.9 193.2,394.3C195.2,394.7 197.1,395.1 199.1,395.5C201.0,395.9 203.0,396.3 204.9,396.8C206.9,397.2 208.9,397.7 210.8,398.2C212.8,398.7 214.7,399.2 216.7,399.8C218.6,400.3 220.6,400.9 222.6,401.5C224.5,402.0 226.5,402.6 228.4,403.3C230.4,403.9 232.3,404.5 234.3,405.1C236.3,405.7 238.2,406.4 240.2,407.0C242.1,407.7 244.1,408.3 246.0,409.0C248.0,409.7 250.0,410.5 251.9,411.3C253.9,412.1 255.8,412.9 257.8,413.8C259.7,414.8 261.7,415.8 263.7,416.9C265.6,418.0 267.6,419.2 269.5,420.4C271.5,421.6 273.4,422.9 275.4,424.2C277.3,425.5 279.3,426.9 281.3,428.1C283.2,429.4 285.2,430.7 287.1,431.9C289.1,433.0 291.0,434.2 293.0,435.1C295.0,436.1 296.9,437.0 298.9,437.6C300.8,438.2 302.8,438.6 304.7,438.7C306.7,438.7 308.7,438.5 310.6,437.9C312.6,437.3 314.5,436.3 316.5,434.8C318.4,433.4 320.4,431.5 322.4,429.2C324.3,427.0 326.3,424.3 328.2,421.3C330.2,418.4 332.1,415.0 334.1,411.4C336.1,407.7 338.0,403.7 340.0,399.5C341.9,395.3 343.9,390.8 345.8,386.2C347.8,381.6 349.8,376.9 351.7,372.3C353.7,367.7 355.6,363.1 357.6,358.8C359.5,354.5 361.5,350.5 363.4,346.8C365.4,343.2 367.4,340.0 369.3,337.3C371.3,334.5 373.2,332.2 375.2,330.3C377.1,328.4 379.1,326.8 381.1,325.5C383.0,324.2 385.0,323.1 386.9,322.3C388.9,321.5 390.8,320.9 392.8,320.5C394.8,320.0 396.7,319.7 398.7,319.5C400.6,319.3 402.6,319.2 404.5,319.3C406.5,319.3 408.5,319.4 410.4,319.6C412.4,319.8 414.3,320.0 416.3,320.4C418.2,320.7 420.2,321.0 422.2,321.4C424.1,321.8 426.1,322.2 428.0,322.7C430.0,323.1 431.9,323.6 433.9,324.1C435.9,324.5 437.8,325.0 439.8,325.5C441.7,326.0 443.7,326.6 445.6,327.1C447.6,327.6 449.6,328.1 451.5,328.6C453.5,329.1 455.4,329.5 457.4,330.0C459.3,330.5 461.3,330.9 463.2,331.4C465.2,331.8 467.2,332.2 469.1,332.6C471.1,333.0 473.0,333.3 475.0,333.6C476.9,334.0 478.9,334.3 480.9,334.5C482.8,334.8 484.8,335.0 486.7,335.2C488.7,335.4 490.6,335.6 492.6,335.7C494.6,335.9 496.5,336.0 498.5,336.0C500.4,336.1 502.4,336.1 504.3,336.1C506.3,336.1 508.3,336.0 510.2,335.9C512.2,335.7 514.1,335.5 516.1,335.3C518.0,335.0 520.0,334.7 522.0,334.3C523.9,334.0 525.9,333.6 527.8,333.2C529.8,332.9 531.7,332.4 533.7,331.9C535.7,331.4 537.6,330.9 539.6,330.2C541.5,329.5 543.5,328.7 545.4,327.8C547.4,326.8 549.3,325.8 551.3,324.8C553.3,323.7 555.2,322.6 557.2,321.4C559.1,320.2 561.1,318.9 563.0,317.5C565.0,316.2 567.0,314.7 568.9,313.2C570.9,311.6 572.8,310.0 574.8,308.2C576.7,306.5 578.7,304.7 580.7,302.9C582.6,301.0 584.6,299.2 586.5,297.3C588.5,295.5 590.4,293.6 592.4,291.8C594.4,290.0 596.3,288.3 598.3,286.6C600.2,284.8 602.2,283.1 604.1,281.5C606.1,279.8 608.1,278.2 610.0,276.7C612.0,275.3 613.9,273.9 615.9,272.8C617.8,271.6 619.8,270.6 621.8,269.7C623.7,268.9 625.7,268.2 627.6,267.5C629.6,266.9 631.5,266.4 633.5,266.0C635.4,265.6 637.4,265.4 639.4,265.2C641.3,265.0 643.3,264.9 645.2,264.9C647.2,264.9 649.1,265.0 651.1,265.1C653.1,265.3 655.0,265.6 657.0,265.9C658.9,266.2 660.9,266.6 662.8,267.1C664.8,267.6 666.8,268.1 668.7,268.7C670.7,269.3 672.6,270.0 674.6,270.7C676.5,271.4 678.5,272.2 680.5,273.1C682.4,273.9 684.4,274.8 686.3,275.8C688.3,276.8 690.2,277.8 692.2,278.9C694.2,280.0 696.1,281.1 698.1,282.4C700.0,283.6 702.0,284.8 703.9,286.3C705.9,287.7 707.9,289.2 709.8,290.7C711.8,292.3 713.7,293.9 715.7,295.4C717.6,297.0 719.6,298.5 721.6,300.0C723.5,301.5 725.5,303.0 727.4,304.5C729.4,306.0 731.3,307.5 733.3,308.9C735.2,310.4 737.2,311.9 739.2,313.3C741.1,314.8 743.1,316.2 745.0,317.6C747.0,319.0 748.9,320.4 750.9,321.8C752.9,323.2 754.8,324.5 756.8,325.8C758.7,327.1 760.7,328.3 762.6,329.6C764.6,330.8 766.6,331.9 768.5,333.0C770.5,334.1 772.4,335.1 774.4,336.1C776.3,337.1 778.3,338.0 780.3,338.8C782.2,339.6 784.2,340.4 786.1,341.1C788.1,341.8 790.0,342.4 792.0,343.0C794.0,343.6 795.9,344.1 797.9,344.6C799.8,345.1 801.8,345.5 803.7,345.9C805.7,346.3 807.7,346.7 809.6,347.0C811.6,347.3 813.5,347.5 815.5,347.7C817.4,347.9 819.4,348.0 821.3,348.1C823.3,348.1 825.3,348.1 827.2,348.0C829.2,347.9 831.1,347.7 833.1,347.5C835.0,347.2 837.0,346.8 839.0,346.3C840.9,345.8 842.9,345.2 844.8,344.4C846.8,343.5 848.7,342.5 850.7,341.4C852.7,340.2 854.6,338.9 856.6,337.5C858.5,336.1 860.5,334.6 862.4,332.9C864.4,331.2 866.4,329.3 868.3,327.1C870.3,325.0 872.2,322.6 874.2,319.9C876.1,317.2 878.1,314.2 880.1,310.9C882.0,307.6 884.0,304.0 885.9,300.2C887.9,296.5 889.8,292.6 891.8,288.7C893.8,284.8 895.7,280.9 897.7,277.1C899.6,273.3 901.6,269.6 903.5,266.2C905.5,262.8 907.4,259.7 909.4,256.8C911.4,254.0 913.3,251.4 915.3,249.1C917.2,246.8 919.2,244.7 921.1,242.9C923.1,241.1 925.1,239.5 927.0,238.1C929.0,236.7 930.9,235.6 932.9,234.6C934.8,233.6 936.8,232.9 938.8,232.2C940.7,231.6 942.7,231.1 944.6,230.7C946.6,230.3 948.5,229.9 950.5,229.7" fill="none" stroke="#ff5a78" stroke-width="5.4"/>
<path d="M134.5,459.4C136.5,460.1 138.4,460.7 140.4,461.3C142.3,461.9 144.3,462.4 146.2,463.0C148.2,463.5 150.2,464.0 152.1,464.5C154.1,465.1 156.0,465.5 158.0,466.0C159.9,466.5 161.9,467.0 163.9,467.5C165.8,468.0 167.8,468.5 169.7,469.0C171.7,469.5 173.6,469.9 175.6,470.4C177.6,470.9 179.5,471.4 181.5,471.9C183.4,472.4 185.4,472.8 187.3,473.3C189.3,473.8 191.2,474.2 193.2,474.6C195.2,475.1 197.1,475.5 199.1,475.9C201.0,476.3 203.0,476.7 204.9,477.1C206.9,477.5 208.9,477.8 210.8,478.2C212.8,478.5 214.7,478.8 216.7,479.2C218.6,479.5 220.6,479.8 222.6,480.1C224.5,480.4 226.5,480.7 228.4,481.0C230.4,481.2 232.3,481.5 234.3,481.8C236.3,482.0 238.2,482.3 240.2,482.5C242.1,482.7 244.1,482.9 246.0,483.1C248.0,483.4 250.0,483.5 251.9,483.7C253.9,483.9 255.8,484.1 257.8,484.2C259.7,484.4 261.7,484.5 263.7,484.6C265.6,484.7 267.6,484.8 269.5,484.9C271.5,485.0 273.4,485.1 275.4,485.1C277.3,485.1 279.3,485.1 281.3,485.1C283.2,485.1 285.2,485.1 287.1,485.0C289.1,484.9 291.0,484.8 293.0,484.7C295.0,484.6 296.9,484.5 298.9,484.3C300.8,484.2 302.8,484.0 304.7,483.8C306.7,483.6 308.7,483.4 310.6,483.2C312.6,483.0 314.5,482.8 316.5,482.6C318.4,482.4 320.4,482.2 322.4,482.0C324.3,481.8 326.3,481.5 328.2,481.2C330.2,480.9 332.1,480.6 334.1,480.2C336.1,479.8 338.0,479.3 340.0,478.7C341.9,478.1 343.9,477.5 345.8,476.7C347.8,475.9 349.8,474.9 351.7,473.9C353.7,472.8 355.6,471.7 357.6,470.4C359.5,469.2 361.5,467.9 363.4,466.5C365.4,465.1 367.4,463.6 369.3,462.1C371.3,460.6 373.2,459.1 375.2,457.6C377.1,456.0 379.1,454.5 381.1,452.9C383.0,451.4 385.0,449.8 386.9,448.3C388.9,446.7 390.8,445.2 392.8,443.7C394.8,442.1 396.7,440.6 398.7,439.0C400.6,437.4 402.6,435.9 404.5,434.3C406.5,432.7 408.5,431.2 410.4,429.6C412.4,428.0 414.3,426.4 416.3,424.8C418.2,423.3 420.2,421.7 422.2,420.2C424.1,418.7 426.1,417.2 428.0,415.8C430.0,414.4 431.9,413.0 433.9,411.7C435.9,410.4 437.8,409.2 439.8,408.1C441.7,407.0 443.7,405.9 445.6,405.0C447.6,404.0 449.6,403.2 451.5,402.4C453.5,401.6 455.4,400.9 457.4,400.2C459.3,399.6 461.3,399.1 463.2,398.6C465.2,398.1 467.2,397.7 469.1,397.3C471.1,396.9 473.0,396.7 475.0,396.5C476.9,396.3 478.9,396.2 480.9,396.2C482.8,396.2 484.8,396.5 486.7,396.9C488.7,397.3 490.6,397.9 492.6,398.7C494.6,399.6 496.5,400.6 498.5,401.8C500.4,403.1 502.4,404.5 504.3,406.1C506.3,407.8 508.3,409.5 510.2,411.3C512.2,413.1 514.1,414.9 516.1,416.7C518.0,418.5 520.0,420.3 522.0,422.0C523.9,423.7 525.9,425.3 527.8,426.7C529.8,428.2 531.7,429.4 533.7,430.5C535.7,431.5 537.6,432.4 539.6,433.2C541.5,433.9 543.5,434.5 545.4,435.0C547.4,435.5 549.3,435.8 551.3,436.2C553.3,436.5 555.2,436.7 557.2,436.9C559.1,437.1 561.1,437.2 563.0,437.4C565.0,437.5 567.0,437.6 568.9,437.7C570.9,437.8 572.8,437.9 574.8,437.9C576.7,437.9 578.7,437.8 580.7,437.7C582.6,437.6 584.6,437.5 586.5,437.3C588.5,437.0 590.4,436.8 592.4,436.4C594.4,436.0 596.3,435.6 598.3,435.1C600.2,434.6 602.2,434.0 604.1,433.4C606.1,432.7 608.1,432.0 610.0,431.3C612.0,430.5 613.9,429.7 615.9,428.8C617.8,428.0 619.8,427.0 621.8,426.1C623.7,425.1 625.7,424.1 627.6,423.0C629.6,421.9 631.5,420.8 633.5,419.6C635.4,418.5 637.4,417.2 639.4,416.0C641.3,414.7 643.3,413.3 645.2,411.9C647.2,410.6 649.1,409.1 651.1,407.6C653.1,406.1 655.0,404.5 657.0,402.9C658.9,401.3 660.9,399.7 662.8,398.1C664.8,396.4 666.8,394.8 668.7,393.2C670.7,391.5 672.6,389.9 674.6,388.4C676.5,386.8 678.5,385.3 680.5,383.9C682.4,382.5 684.4,381.2 686.3,379.9C688.3,378.7 690.2,377.5 692.2,376.5C694.2,375.4 696.1,374.5 698.1,373.7C700.0,372.9 702.0,372.2 703.9,371.6C705.9,371.1 707.9,370.6 709.8,370.3C711.8,370.0 713.7,369.8 715.7,369.8C717.6,369.7 719.6,369.8 721.6,370.0C723.5,370.2 725.5,370.6 727.4,371.0C729.4,371.4 731.3,372.0 733.3,372.6C735.2,373.3 737.2,374.0 739.2,374.9C741.1,375.7 743.1,376.6 745.0,377.6C747.0,378.5 748.9,379.6 750.9,380.7C752.9,381.8 754.8,382.9 756.8,384.2C758.7,385.5 760.7,386.8 762.6,388.3C764.6,389.8 766.6,391.4 768.5,393.1C770.5,394.9 772.4,396.7 774.4,398.7C776.3,400.6 778.3,402.6 780.3,404.7C782.2,406.8 784.2,409.0 786.1,411.3C788.1,413.5 790.0,415.9 792.0,418.2C794.0,420.5 795.9,422.8 797.9,424.9C799.8,427.1 801.8,429.1 803.7,431.0C805.7,432.9 807.7,434.6 809.6,436.1C811.6,437.6 813.5,438.8 815.5,439.9C817.4,440.9 819.4,441.7 821.3,442.2C823.3,442.6 825.3,442.8 827.2,442.7C829.2,442.6 831.1,442.1 833.1,441.3C835.0,440.5 837.0,439.3 839.0,437.8C840.9,436.3 842.9,434.5 844.8,432.5C846.8,430.5 848.7,428.3 850.7,425.9C852.7,423.5 854.6,421.1 856.6,418.6C858.5,416.0 860.5,413.5 862.4,411.0C864.4,408.5 866.4,406.1 868.3,403.7C870.3,401.4 872.2,399.1 874.2,396.9C876.1,394.7 878.1,392.5 880.1,390.5C882.0,388.4 884.0,386.3 885.9,384.3C887.9,382.4 889.8,380.4 891.8,378.5C893.8,376.6 895.7,374.7 897.7,372.8C899.6,371.0 901.6,369.1 903.5,367.4C905.5,365.6 907.4,363.9 909.4,362.3C911.4,360.7 913.3,359.2 915.3,357.8C917.2,356.4 919.2,355.1 921.1,354.0C923.1,352.8 925.1,351.8 927.0,351.0C929.0,350.2 930.9,349.6 932.9,349.0C934.8,348.5 936.8,348.1 938.8,347.7C940.7,347.3 942.7,347.0 944.6,346.7C946.6,346.4 948.5,346.1 950.5,345.8L950.5,628.0L134.5,628.0Z" fill="url(#gc)"/><g clip-path="url(#cc)" stroke="#78ece0" stroke-width="3.6"><line x1="180.5" y1="160" x2="180.5" y2="628.0"/><line x1="283.5" y1="160" x2="283.5" y2="628.0"/><line x1="386.5" y1="160" x2="386.5" y2="628.0"/><line x1="489.5" y1="160" x2="489.5" y2="628.0"/><line x1="592.5" y1="160" x2="592.5" y2="628.0"/><line x1="695.5" y1="160" x2="695.5" y2="628.0"/><line x1="798.5" y1="160" x2="798.5" y2="628.0"/><line x1="901.5" y1="160" x2="901.5" y2="628.0"/><line x1="134.5" y1="207.7" x2="950.5" y2="207.7"/><line x1="134.5" y1="277.7" x2="950.5" y2="277.7"/><line x1="134.5" y1="347.7" x2="950.5" y2="347.7"/><line x1="134.5" y1="417.7" x2="950.5" y2="417.7"/><line x1="134.5" y1="487.7" x2="950.5" y2="487.7"/><line x1="134.5" y1="557.7" x2="950.5" y2="557.7"/></g>
<path d="M134.5,459.4C136.5,460.1 138.4,460.7 140.4,461.3C142.3,461.9 144.3,462.4 146.2,463.0C148.2,463.5 150.2,464.0 152.1,464.5C154.1,465.1 156.0,465.5 158.0,466.0C159.9,466.5 161.9,467.0 163.9,467.5C165.8,468.0 167.8,468.5 169.7,469.0C171.7,469.5 173.6,469.9 175.6,470.4C177.6,470.9 179.5,471.4 181.5,471.9C183.4,472.4 185.4,472.8 187.3,473.3C189.3,473.8 191.2,474.2 193.2,474.6C195.2,475.1 197.1,475.5 199.1,475.9C201.0,476.3 203.0,476.7 204.9,477.1C206.9,477.5 208.9,477.8 210.8,478.2C212.8,478.5 214.7,478.8 216.7,479.2C218.6,479.5 220.6,479.8 222.6,480.1C224.5,480.4 226.5,480.7 228.4,481.0C230.4,481.2 232.3,481.5 234.3,481.8C236.3,482.0 238.2,482.3 240.2,482.5C242.1,482.7 244.1,482.9 246.0,483.1C248.0,483.4 250.0,483.5 251.9,483.7C253.9,483.9 255.8,484.1 257.8,484.2C259.7,484.4 261.7,484.5 263.7,484.6C265.6,484.7 267.6,484.8 269.5,484.9C271.5,485.0 273.4,485.1 275.4,485.1C277.3,485.1 279.3,485.1 281.3,485.1C283.2,485.1 285.2,485.1 287.1,485.0C289.1,484.9 291.0,484.8 293.0,484.7C295.0,484.6 296.9,484.5 298.9,484.3C300.8,484.2 302.8,484.0 304.7,483.8C306.7,483.6 308.7,483.4 310.6,483.2C312.6,483.0 314.5,482.8 316.5,482.6C318.4,482.4 320.4,482.2 322.4,482.0C324.3,481.8 326.3,481.5 328.2,481.2C330.2,480.9 332.1,480.6 334.1,480.2C336.1,479.8 338.0,479.3 340.0,478.7C341.9,478.1 343.9,477.5 345.8,476.7C347.8,475.9 349.8,474.9 351.7,473.9C353.7,472.8 355.6,471.7 357.6,470.4C359.5,469.2 361.5,467.9 363.4,466.5C365.4,465.1 367.4,463.6 369.3,462.1C371.3,460.6 373.2,459.1 375.2,457.6C377.1,456.0 379.1,454.5 381.1,452.9C383.0,451.4 385.0,449.8 386.9,448.3C388.9,446.7 390.8,445.2 392.8,443.7C394.8,442.1 396.7,440.6 398.7,439.0C400.6,437.4 402.6,435.9 404.5,434.3C406.5,432.7 408.5,431.2 410.4,429.6C412.4,428.0 414.3,426.4 416.3,424.8C418.2,423.3 420.2,421.7 422.2,420.2C424.1,418.7 426.1,417.2 428.0,415.8C430.0,414.4 431.9,413.0 433.9,411.7C435.9,410.4 437.8,409.2 439.8,408.1C441.7,407.0 443.7,405.9 445.6,405.0C447.6,404.0 449.6,403.2 451.5,402.4C453.5,401.6 455.4,400.9 457.4,400.2C459.3,399.6 461.3,399.1 463.2,398.6C465.2,398.1 467.2,397.7 469.1,397.3C471.1,396.9 473.0,396.7 475.0,396.5C476.9,396.3 478.9,396.2 480.9,396.2C482.8,396.2 484.8,396.5 486.7,396.9C488.7,397.3 490.6,397.9 492.6,398.7C494.6,399.6 496.5,400.6 498.5,401.8C500.4,403.1 502.4,404.5 504.3,406.1C506.3,407.8 508.3,409.5 510.2,411.3C512.2,413.1 514.1,414.9 516.1,416.7C518.0,418.5 520.0,420.3 522.0,422.0C523.9,423.7 525.9,425.3 527.8,426.7C529.8,428.2 531.7,429.4 533.7,430.5C535.7,431.5 537.6,432.4 539.6,433.2C541.5,433.9 543.5,434.5 545.4,435.0C547.4,435.5 549.3,435.8 551.3,436.2C553.3,436.5 555.2,436.7 557.2,436.9C559.1,437.1 561.1,437.2 563.0,437.4C565.0,437.5 567.0,437.6 568.9,437.7C570.9,437.8 572.8,437.9 574.8,437.9C576.7,437.9 578.7,437.8 580.7,437.7C582.6,437.6 584.6,437.5 586.5,437.3C588.5,437.0 590.4,436.8 592.4,436.4C594.4,436.0 596.3,435.6 598.3,435.1C600.2,434.6 602.2,434.0 604.1,433.4C606.1,432.7 608.1,432.0 610.0,431.3C612.0,430.5 613.9,429.7 615.9,428.8C617.8,428.0 619.8,427.0 621.8,426.1C623.7,425.1 625.7,424.1 627.6,423.0C629.6,421.9 631.5,420.8 633.5,419.6C635.4,418.5 637.4,417.2 639.4,416.0C641.3,414.7 643.3,413.3 645.2,411.9C647.2,410.6 649.1,409.1 651.1,407.6C653.1,406.1 655.0,404.5 657.0,402.9C658.9,401.3 660.9,399.7 662.8,398.1C664.8,396.4 666.8,394.8 668.7,393.2C670.7,391.5 672.6,389.9 674.6,388.4C676.5,386.8 678.5,385.3 680.5,383.9C682.4,382.5 684.4,381.2 686.3,379.9C688.3,378.7 690.2,377.5 692.2,376.5C694.2,375.4 696.1,374.5 698.1,373.7C700.0,372.9 702.0,372.2 703.9,371.6C705.9,371.1 707.9,370.6 709.8,370.3C711.8,370.0 713.7,369.8 715.7,369.8C717.6,369.7 719.6,369.8 721.6,370.0C723.5,370.2 725.5,370.6 727.4,371.0C729.4,371.4 731.3,372.0 733.3,372.6C735.2,373.3 737.2,374.0 739.2,374.9C741.1,375.7 743.1,376.6 745.0,377.6C747.0,378.5 748.9,379.6 750.9,380.7C752.9,381.8 754.8,382.9 756.8,384.2C758.7,385.5 760.7,386.8 762.6,388.3C764.6,389.8 766.6,391.4 768.5,393.1C770.5,394.9 772.4,396.7 774.4,398.7C776.3,400.6 778.3,402.6 780.3,404.7C782.2,406.8 784.2,409.0 786.1,411.3C788.1,413.5 790.0,415.9 792.0,418.2C794.0,420.5 795.9,422.8 797.9,424.9C799.8,427.1 801.8,429.1 803.7,431.0C805.7,432.9 807.7,434.6 809.6,436.1C811.6,437.6 813.5,438.8 815.5,439.9C817.4,440.9 819.4,441.7 821.3,442.2C823.3,442.6 825.3,442.8 827.2,442.7C829.2,442.6 831.1,442.1 833.1,441.3C835.0,440.5 837.0,439.3 839.0,437.8C840.9,436.3 842.9,434.5 844.8,432.5C846.8,430.5 848.7,428.3 850.7,425.9C852.7,423.5 854.6,421.1 856.6,418.6C858.5,416.0 860.5,413.5 862.4,411.0C864.4,408.5 866.4,406.1 868.3,403.7C870.3,401.4 872.2,399.1 874.2,396.9C876.1,394.7 878.1,392.5 880.1,390.5C882.0,388.4 884.0,386.3 885.9,384.3C887.9,382.4 889.8,380.4 891.8,378.5C893.8,376.6 895.7,374.7 897.7,372.8C899.6,371.0 901.6,369.1 903.5,367.4C905.5,365.6 907.4,363.9 909.4,362.3C911.4,360.7 913.3,359.2 915.3,357.8C917.2,356.4 919.2,355.1 921.1,354.0C923.1,352.8 925.1,351.8 927.0,351.0C929.0,350.2 930.9,349.6 932.9,349.0C934.8,348.5 936.8,348.1 938.8,347.7C940.7,347.3 942.7,347.0 944.6,346.7C946.6,346.4 948.5,346.1 950.5,345.8" fill="none" stroke="#14dcc8" stroke-width="5.4"/>
<path d="M134.5,527.3C136.5,527.3 138.4,527.3 140.4,527.4C142.3,527.4 144.3,527.5 146.2,527.5C148.2,527.6 150.2,527.6 152.1,527.6C154.1,527.6 156.0,527.6 158.0,527.5C159.9,527.5 161.9,527.4 163.9,527.2C165.8,527.0 167.8,526.8 169.7,526.6C171.7,526.3 173.6,526.0 175.6,525.7C177.6,525.4 179.5,525.2 181.5,524.9C183.4,524.7 185.4,524.5 187.3,524.3C189.3,524.1 191.2,523.9 193.2,523.6C195.2,523.4 197.1,523.1 199.1,522.7C201.0,522.4 203.0,521.9 204.9,521.4C206.9,520.8 208.9,520.2 210.8,519.6C212.8,518.9 214.7,518.2 216.7,517.5C218.6,516.8 220.6,516.0 222.6,515.2C224.5,514.4 226.5,513.6 228.4,512.8C230.4,512.0 232.3,511.2 234.3,510.3C236.3,509.5 238.2,508.7 240.2,507.9C242.1,507.1 244.1,506.4 246.0,505.6C248.0,504.8 250.0,503.9 251.9,503.0C253.9,502.2 255.8,501.3 257.8,500.2C259.7,499.1 261.7,497.9 263.7,496.5C265.6,495.2 267.6,493.7 269.5,492.1C271.5,490.5 273.4,488.9 275.4,487.2C277.3,485.5 279.3,483.8 281.3,482.1C283.2,480.4 285.2,478.8 287.1,477.2C289.1,475.6 291.0,473.9 293.0,472.4C295.0,470.8 296.9,469.2 298.9,467.7C300.8,466.1 302.8,464.6 304.7,463.2C306.7,461.8 308.7,460.5 310.6,459.2C312.6,457.9 314.5,456.7 316.5,455.5C318.4,454.4 320.4,453.3 322.4,452.2C324.3,451.1 326.3,450.1 328.2,449.1C330.2,448.1 332.1,447.1 334.1,446.2C336.1,445.2 338.0,444.4 340.0,443.6C341.9,442.8 343.9,442.0 345.8,441.3C347.8,440.6 349.8,440.0 351.7,439.5C353.7,438.9 355.6,438.4 357.6,437.9C359.5,437.5 361.5,437.1 363.4,436.8C365.4,436.5 367.4,436.2 369.3,436.0C371.3,435.8 373.2,435.6 375.2,435.5C377.1,435.4 379.1,435.3 381.1,435.3C383.0,435.3 385.0,435.4 386.9,435.5C388.9,435.6 390.8,435.7 392.8,435.9C394.8,436.1 396.7,436.3 398.7,436.6C400.6,436.9 402.6,437.2 404.5,437.6C406.5,437.9 408.5,438.4 410.4,438.9C412.4,439.4 414.3,439.9 416.3,440.5C418.2,441.1 420.2,441.8 422.2,442.6C424.1,443.3 426.1,444.1 428.0,445.0C430.0,445.9 431.9,446.8 433.9,447.7C435.9,448.7 437.8,449.7 439.8,450.7C441.7,451.7 443.7,452.8 445.6,453.8C447.6,454.9 449.6,456.0 451.5,457.1C453.5,458.2 455.4,459.3 457.4,460.5C459.3,461.6 461.3,462.7 463.2,463.9C465.2,465.0 467.2,466.2 469.1,467.4C471.1,468.5 473.0,469.7 475.0,470.8C476.9,472.0 478.9,473.2 480.9,474.5C482.8,475.7 484.8,477.0 486.7,478.4C488.7,479.8 490.6,481.2 492.6,482.8C494.6,484.4 496.5,486.1 498.5,487.9C500.4,489.7 502.4,491.6 504.3,493.5C506.3,495.5 508.3,497.4 510.2,499.3C512.2,501.1 514.1,502.9 516.1,504.6C518.0,506.2 520.0,507.7 522.0,508.9C523.9,510.1 525.9,511.0 527.8,511.7C529.8,512.4 531.7,512.9 533.7,513.2C535.7,513.5 537.6,513.6 539.6,513.5C541.5,513.5 543.5,513.3 545.4,513.1C547.4,512.8 549.3,512.5 551.3,512.1C553.3,511.7 555.2,511.2 557.2,510.7C559.1,510.1 561.1,509.5 563.0,508.8C565.0,508.2 567.0,507.4 568.9,506.6C570.9,505.7 572.8,504.8 574.8,503.8C576.7,502.7 578.7,501.6 580.7,500.4C582.6,499.2 584.6,498.0 586.5,496.6C588.5,495.3 590.4,493.9 592.4,492.5C594.4,491.1 596.3,489.7 598.3,488.3C600.2,486.9 602.2,485.5 604.1,484.2C606.1,482.8 608.1,481.5 610.0,480.1C612.0,478.8 613.9,477.5 615.9,476.1C617.8,474.8 619.8,473.5 621.8,472.2C623.7,470.8 625.7,469.5 627.6,468.1C629.6,466.8 631.5,465.4 633.5,464.1C635.4,462.7 637.4,461.4 639.4,460.1C641.3,458.8 643.3,457.5 645.2,456.2C647.2,455.0 649.1,453.8 651.1,452.6C653.1,451.5 655.0,450.4 657.0,449.4C658.9,448.3 660.9,447.3 662.8,446.4C664.8,445.5 666.8,444.6 668.7,443.8C670.7,443.0 672.6,442.3 674.6,441.6C676.5,440.9 678.5,440.2 680.5,439.6C682.4,439.1 684.4,438.5 686.3,438.1C688.3,437.7 690.2,437.3 692.2,437.1C694.2,436.9 696.1,436.8 698.1,436.8C700.0,436.8 702.0,436.9 703.9,437.2C705.9,437.4 707.9,437.7 709.8,438.1C711.8,438.5 713.7,439.1 715.7,439.6C717.6,440.2 719.6,440.5 721.6,441.0C723.5,441.5 725.5,442.0 727.4,443.0C729.4,444.0 731.3,445.1 733.3,446.3C735.2,447.4 737.2,448.6 739.2,449.8C741.1,451.1 743.1,452.5 745.0,453.9C747.0,455.4 748.9,457.0 750.9,458.8C752.9,460.6 754.8,462.5 756.8,464.6C758.7,466.7 760.7,469.0 762.6,471.5C764.6,473.9 766.6,476.5 768.5,479.1C770.5,481.8 772.4,484.5 774.4,487.3C776.3,490.1 778.3,493.1 780.3,496.2C782.2,499.4 784.2,502.6 786.1,505.8C788.1,508.9 790.0,512.0 792.0,514.9C794.0,517.8 795.9,520.3 797.9,522.8C799.8,525.3 801.8,527.6 803.7,529.8C805.7,531.9 807.7,533.9 809.6,535.6C811.6,537.4 813.5,539.0 815.5,540.3C817.4,541.7 819.4,542.8 821.3,543.7C823.3,544.7 825.3,545.4 827.2,545.9C829.2,546.4 831.1,546.7 833.1,546.8C835.0,546.8 837.0,546.7 839.0,546.4C840.9,546.1 842.9,545.7 844.8,545.1C846.8,544.5 848.7,543.9 850.7,543.1C852.7,542.4 854.6,541.6 856.6,540.9C858.5,540.1 860.5,539.3 862.4,538.5C864.4,537.7 866.4,536.9 868.3,536.0C870.3,535.1 872.2,534.1 874.2,533.0C876.1,531.8 878.1,530.5 880.1,529.0C882.0,527.4 884.0,525.7 885.9,523.6C887.9,521.6 889.8,519.4 891.8,517.0C893.8,514.7 895.7,512.2 897.7,509.8C899.6,507.4 901.6,505.0 903.5,502.7C905.5,500.5 907.4,498.4 909.4,496.7C911.4,494.9 913.3,493.4 915.3,492.2C917.2,491.0 919.2,490.1 921.1,489.4C923.1,488.6 925.1,488.1 927.0,487.7C929.0,487.3 930.9,487.0 932.9,486.8C934.8,486.7 936.8,486.5 938.8,486.4C940.7,486.3 942.7,486.3 944.6,486.3C946.6,486.2 948.5,486.3 950.5,486.3L950.5,628.0L134.5,628.0Z" fill="url(#gy)"/><g clip-path="url(#cy)" stroke="#e8dea0" stroke-opacity="0.75" stroke-width="3.6"><line x1="180.5" y1="160" x2="180.5" y2="628.0"/><line x1="283.5" y1="160" x2="283.5" y2="628.0"/><line x1="386.5" y1="160" x2="386.5" y2="628.0"/><line x1="489.5" y1="160" x2="489.5" y2="628.0"/><line x1="592.5" y1="160" x2="592.5" y2="628.0"/><line x1="695.5" y1="160" x2="695.5" y2="628.0"/><line x1="798.5" y1="160" x2="798.5" y2="628.0"/><line x1="901.5" y1="160" x2="901.5" y2="628.0"/><line x1="134.5" y1="207.7" x2="950.5" y2="207.7"/><line x1="134.5" y1="277.7" x2="950.5" y2="277.7"/><line x1="134.5" y1="347.7" x2="950.5" y2="347.7"/><line x1="134.5" y1="417.7" x2="950.5" y2="417.7"/><line x1="134.5" y1="487.7" x2="950.5" y2="487.7"/><line x1="134.5" y1="557.7" x2="950.5" y2="557.7"/></g>
<path d="M134.5,527.3C136.5,527.3 138.4,527.3 140.4,527.4C142.3,527.4 144.3,527.5 146.2,527.5C148.2,527.6 150.2,527.6 152.1,527.6C154.1,527.6 156.0,527.6 158.0,527.5C159.9,527.5 161.9,527.4 163.9,527.2C165.8,527.0 167.8,526.8 169.7,526.6C171.7,526.3 173.6,526.0 175.6,525.7C177.6,525.4 179.5,525.2 181.5,524.9C183.4,524.7 185.4,524.5 187.3,524.3C189.3,524.1 191.2,523.9 193.2,523.6C195.2,523.4 197.1,523.1 199.1,522.7C201.0,522.4 203.0,521.9 204.9,521.4C206.9,520.8 208.9,520.2 210.8,519.6C212.8,518.9 214.7,518.2 216.7,517.5C218.6,516.8 220.6,516.0 222.6,515.2C224.5,514.4 226.5,513.6 228.4,512.8C230.4,512.0 232.3,511.2 234.3,510.3C236.3,509.5 238.2,508.7 240.2,507.9C242.1,507.1 244.1,506.4 246.0,505.6C248.0,504.8 250.0,503.9 251.9,503.0C253.9,502.2 255.8,501.3 257.8,500.2C259.7,499.1 261.7,497.9 263.7,496.5C265.6,495.2 267.6,493.7 269.5,492.1C271.5,490.5 273.4,488.9 275.4,487.2C277.3,485.5 279.3,483.8 281.3,482.1C283.2,480.4 285.2,478.8 287.1,477.2C289.1,475.6 291.0,473.9 293.0,472.4C295.0,470.8 296.9,469.2 298.9,467.7C300.8,466.1 302.8,464.6 304.7,463.2C306.7,461.8 308.7,460.5 310.6,459.2C312.6,457.9 314.5,456.7 316.5,455.5C318.4,454.4 320.4,453.3 322.4,452.2C324.3,451.1 326.3,450.1 328.2,449.1C330.2,448.1 332.1,447.1 334.1,446.2C336.1,445.2 338.0,444.4 340.0,443.6C341.9,442.8 343.9,442.0 345.8,441.3C347.8,440.6 349.8,440.0 351.7,439.5C353.7,438.9 355.6,438.4 357.6,437.9C359.5,437.5 361.5,437.1 363.4,436.8C365.4,436.5 367.4,436.2 369.3,436.0C371.3,435.8 373.2,435.6 375.2,435.5C377.1,435.4 379.1,435.3 381.1,435.3C383.0,435.3 385.0,435.4 386.9,435.5C388.9,435.6 390.8,435.7 392.8,435.9C394.8,436.1 396.7,436.3 398.7,436.6C400.6,436.9 402.6,437.2 404.5,437.6C406.5,437.9 408.5,438.4 410.4,438.9C412.4,439.4 414.3,439.9 416.3,440.5C418.2,441.1 420.2,441.8 422.2,442.6C424.1,443.3 426.1,444.1 428.0,445.0C430.0,445.9 431.9,446.8 433.9,447.7C435.9,448.7 437.8,449.7 439.8,450.7C441.7,451.7 443.7,452.8 445.6,453.8C447.6,454.9 449.6,456.0 451.5,457.1C453.5,458.2 455.4,459.3 457.4,460.5C459.3,461.6 461.3,462.7 463.2,463.9C465.2,465.0 467.2,466.2 469.1,467.4C471.1,468.5 473.0,469.7 475.0,470.8C476.9,472.0 478.9,473.2 480.9,474.5C482.8,475.7 484.8,477.0 486.7,478.4C488.7,479.8 490.6,481.2 492.6,482.8C494.6,484.4 496.5,486.1 498.5,487.9C500.4,489.7 502.4,491.6 504.3,493.5C506.3,495.5 508.3,497.4 510.2,499.3C512.2,501.1 514.1,502.9 516.1,504.6C518.0,506.2 520.0,507.7 522.0,508.9C523.9,510.1 525.9,511.0 527.8,511.7C529.8,512.4 531.7,512.9 533.7,513.2C535.7,513.5 537.6,513.6 539.6,513.5C541.5,513.5 543.5,513.3 545.4,513.1C547.4,512.8 549.3,512.5 551.3,512.1C553.3,511.7 555.2,511.2 557.2,510.7C559.1,510.1 561.1,509.5 563.0,508.8C565.0,508.2 567.0,507.4 568.9,506.6C570.9,505.7 572.8,504.8 574.8,503.8C576.7,502.7 578.7,501.6 580.7,500.4C582.6,499.2 584.6,498.0 586.5,496.6C588.5,495.3 590.4,493.9 592.4,492.5C594.4,491.1 596.3,489.7 598.3,488.3C600.2,486.9 602.2,485.5 604.1,484.2C606.1,482.8 608.1,481.5 610.0,480.1C612.0,478.8 613.9,477.5 615.9,476.1C617.8,474.8 619.8,473.5 621.8,472.2C623.7,470.8 625.7,469.5 627.6,468.1C629.6,466.8 631.5,465.4 633.5,464.1C635.4,462.7 637.4,461.4 639.4,460.1C641.3,458.8 643.3,457.5 645.2,456.2C647.2,455.0 649.1,453.8 651.1,452.6C653.1,451.5 655.0,450.4 657.0,449.4C658.9,448.3 660.9,447.3 662.8,446.4C664.8,445.5 666.8,444.6 668.7,443.8C670.7,443.0 672.6,442.3 674.6,441.6C676.5,440.9 678.5,440.2 680.5,439.6C682.4,439.1 684.4,438.5 686.3,438.1C688.3,437.7 690.2,437.3 692.2,437.1C694.2,436.9 696.1,436.8 698.1,436.8C700.0,436.8 702.0,436.9 703.9,437.2C705.9,437.4 707.9,437.7 709.8,438.1C711.8,438.5 713.7,439.1 715.7,439.6C717.6,440.2 719.6,440.5 721.6,441.0C723.5,441.5 725.5,442.0 727.4,443.0C729.4,444.0 731.3,445.1 733.3,446.3C735.2,447.4 737.2,448.6 739.2,449.8C741.1,451.1 743.1,452.5 745.0,453.9C747.0,455.4 748.9,457.0 750.9,458.8C752.9,460.6 754.8,462.5 756.8,464.6C758.7,466.7 760.7,469.0 762.6,471.5C764.6,473.9 766.6,476.5 768.5,479.1C770.5,481.8 772.4,484.5 774.4,487.3C776.3,490.1 778.3,493.1 780.3,496.2C782.2,499.4 784.2,502.6 786.1,505.8C788.1,508.9 790.0,512.0 792.0,514.9C794.0,517.8 795.9,520.3 797.9,522.8C799.8,525.3 801.8,527.6 803.7,529.8C805.7,531.9 807.7,533.9 809.6,535.6C811.6,537.4 813.5,539.0 815.5,540.3C817.4,541.7 819.4,542.8 821.3,543.7C823.3,544.7 825.3,545.4 827.2,545.9C829.2,546.4 831.1,546.7 833.1,546.8C835.0,546.8 837.0,546.7 839.0,546.4C840.9,546.1 842.9,545.7 844.8,545.1C846.8,544.5 848.7,543.9 850.7,543.1C852.7,542.4 854.6,541.6 856.6,540.9C858.5,540.1 860.5,539.3 862.4,538.5C864.4,537.7 866.4,536.9 868.3,536.0C870.3,535.1 872.2,534.1 874.2,533.0C876.1,531.8 878.1,530.5 880.1,529.0C882.0,527.4 884.0,525.7 885.9,523.6C887.9,521.6 889.8,519.4 891.8,517.0C893.8,514.7 895.7,512.2 897.7,509.8C899.6,507.4 901.6,505.0 903.5,502.7C905.5,500.5 907.4,498.4 909.4,496.7C911.4,494.9 913.3,493.4 915.3,492.2C917.2,491.0 919.2,490.1 921.1,489.4C923.1,488.6 925.1,488.1 927.0,487.7C929.0,487.3 930.9,487.0 932.9,486.8C934.8,486.7 936.8,486.5 938.8,486.4C940.7,486.3 942.7,486.3 944.6,486.3C946.6,486.2 948.5,486.3 950.5,486.3" fill="none" stroke="#ffe632" stroke-width="5.4"/>
<path d="M134.5,585.0C136.5,584.7 138.4,584.4 140.4,584.1C142.3,583.9 144.3,583.7 146.2,583.5C148.2,583.3 150.2,583.1 152.1,582.9C154.1,582.7 156.0,582.6 158.0,582.4C159.9,582.2 161.9,582.0 163.9,581.8C165.8,581.7 167.8,581.4 169.7,581.2C171.7,580.9 173.6,580.7 175.6,580.4C177.6,580.1 179.5,579.8 181.5,579.5C183.4,579.1 185.4,578.7 187.3,578.3C189.3,577.9 191.2,577.5 193.2,577.1C195.2,576.6 197.1,576.1 199.1,575.6C201.0,575.1 203.0,574.5 204.9,573.9C206.9,573.3 208.9,572.7 210.8,572.1C212.8,571.4 214.7,570.7 216.7,570.0C218.6,569.3 220.6,568.6 222.6,567.8C224.5,567.0 226.5,566.2 228.4,565.4C230.4,564.6 232.3,563.7 234.3,562.9C236.3,562.1 238.2,561.2 240.2,560.4C242.1,559.6 244.1,558.8 246.0,558.0C248.0,557.2 250.0,556.5 251.9,555.8C253.9,555.1 255.8,554.4 257.8,553.8C259.7,553.2 261.7,552.6 263.7,552.0C265.6,551.5 267.6,551.0 269.5,550.5C271.5,550.0 273.4,549.6 275.4,549.2C277.3,548.8 279.3,548.4 281.3,548.0C283.2,547.7 285.2,547.3 287.1,547.0C289.1,546.7 291.0,546.4 293.0,546.2C295.0,545.9 296.9,545.7 298.9,545.4C300.8,545.2 302.8,545.0 304.7,544.8C306.7,544.7 308.7,544.5 310.6,544.4C312.6,544.2 314.5,544.1 316.5,544.0C318.4,543.9 320.4,543.8 322.4,543.8C324.3,543.7 326.3,543.7 328.2,543.7C330.2,543.7 332.1,543.8 334.1,543.8C336.1,543.9 338.0,544.0 340.0,544.1C341.9,544.2 343.9,544.4 345.8,544.5C347.8,544.7 349.8,544.9 351.7,545.2C353.7,545.4 355.6,545.7 357.6,546.0C359.5,546.3 361.5,546.6 363.4,546.9C365.4,547.3 367.4,547.7 369.3,548.1C371.3,548.4 373.2,548.9 375.2,549.3C377.1,549.8 379.1,550.2 381.1,550.8C383.0,551.3 385.0,551.8 386.9,552.4C388.9,553.0 390.8,553.7 392.8,554.4C394.8,555.1 396.7,555.8 398.7,556.6C400.6,557.4 402.6,558.2 404.5,559.1C406.5,560.0 408.5,560.9 410.4,561.8C412.4,562.7 414.3,563.5 416.3,564.4C418.2,565.2 420.2,565.9 422.2,566.6C424.1,567.3 426.1,567.9 428.0,568.3C430.0,568.8 431.9,569.1 433.9,569.3C435.9,569.5 437.8,569.6 439.8,569.5C441.7,569.4 443.7,569.2 445.6,568.8C447.6,568.4 449.6,567.8 451.5,567.1C453.5,566.4 455.4,565.5 457.4,564.5C459.3,563.4 461.3,562.2 463.2,560.8C465.2,559.4 467.2,557.9 469.1,556.2C471.1,554.5 473.0,552.6 475.0,550.6C476.9,548.7 478.9,546.6 480.9,544.3C482.8,542.1 484.8,539.8 486.7,537.3C488.7,534.9 490.6,532.3 492.6,529.8C494.6,527.2 496.5,524.7 498.5,522.2C500.4,519.7 502.4,517.2 504.3,514.8C506.3,512.4 508.3,510.1 510.2,507.9C512.2,505.7 514.1,503.5 516.1,501.6C518.0,499.6 520.0,497.8 522.0,496.3C523.9,494.7 525.9,493.3 527.8,492.0C529.8,490.8 531.7,489.7 533.7,488.8C535.7,487.8 537.6,487.0 539.6,486.3C541.5,485.7 543.5,485.1 545.4,484.6C547.4,484.2 549.3,483.8 551.3,483.6C553.3,483.3 555.2,483.1 557.2,483.1C559.1,483.0 561.1,483.0 563.0,483.1C565.0,483.2 567.0,483.4 568.9,483.7C570.9,483.9 572.8,484.3 574.8,484.7C576.7,485.1 578.7,485.6 580.7,486.2C582.6,486.7 584.6,487.4 586.5,488.1C588.5,488.8 590.4,489.7 592.4,490.6C594.4,491.5 596.3,492.5 598.3,493.6C600.2,494.7 602.2,496.0 604.1,497.3C606.1,498.6 608.1,500.0 610.0,501.6C612.0,503.1 613.9,504.8 615.9,506.5C617.8,508.3 619.8,510.2 621.8,512.1C623.7,514.1 625.7,516.1 627.6,518.3C629.6,520.5 631.5,522.7 633.5,525.1C635.4,527.4 637.4,529.9 639.4,532.3C641.3,534.8 643.3,537.3 645.2,539.8C647.2,542.3 649.1,544.7 651.1,547.1C653.1,549.4 655.0,551.7 657.0,553.7C658.9,555.8 660.9,557.6 662.8,559.3C664.8,560.9 666.8,562.4 668.7,563.6C670.7,564.9 672.6,566.0 674.6,566.9C676.5,567.8 678.5,568.6 680.5,569.3C682.4,569.9 684.4,570.4 686.3,570.8C688.3,571.1 690.2,571.3 692.2,571.4C694.2,571.5 696.1,571.5 698.1,571.3C700.0,571.1 702.0,570.9 703.9,570.5C705.9,570.1 707.9,569.6 709.8,569.0C711.8,568.4 713.7,567.7 715.7,566.9C717.6,566.1 719.6,565.3 721.6,564.3C723.5,563.3 725.5,562.2 727.4,561.1C729.4,560.0 731.3,558.8 733.3,557.5C735.2,556.2 737.2,554.9 739.2,553.6C741.1,552.2 743.1,550.8 745.0,549.4C747.0,548.0 748.9,546.6 750.9,545.1C752.9,543.7 754.8,542.2 756.8,540.8C758.7,539.4 760.7,537.9 762.6,536.5C764.6,535.1 766.6,533.8 768.5,532.4C770.5,531.1 772.4,529.8 774.4,528.6C776.3,527.4 778.3,526.2 780.3,525.1C782.2,524.0 784.2,523.0 786.1,522.1C788.1,521.1 790.0,520.3 792.0,519.5C794.0,518.7 795.9,518.0 797.9,517.3C799.8,516.7 801.8,516.1 803.7,515.5C805.7,515.0 807.7,514.6 809.6,514.2C811.6,513.8 813.5,513.5 815.5,513.2C817.4,513.0 819.4,512.8 821.3,512.7C823.3,512.5 825.3,512.5 827.2,512.5C829.2,512.5 831.1,512.5 833.1,512.7C835.0,512.8 837.0,513.0 839.0,513.2C840.9,513.5 842.9,513.8 844.8,514.2C846.8,514.5 848.7,515.0 850.7,515.5C852.7,516.0 854.6,516.6 856.6,517.2C858.5,517.9 860.5,518.6 862.4,519.4C864.4,520.2 866.4,521.1 868.3,522.0C870.3,523.0 872.2,524.0 874.2,525.1C876.1,526.2 878.1,527.4 880.1,528.7C882.0,530.0 884.0,531.3 885.9,532.7C887.9,534.1 889.8,535.6 891.8,537.1C893.8,538.7 895.7,540.3 897.7,542.0C899.6,543.7 901.6,545.4 903.5,547.2C905.5,549.0 907.4,550.8 909.4,552.5C911.4,554.3 913.3,556.0 915.3,557.6C917.2,559.3 919.2,560.8 921.1,562.2C923.1,563.7 925.1,564.9 927.0,566.0C929.0,567.1 930.9,568.1 932.9,568.8C934.8,569.6 936.8,570.2 938.8,570.7C940.7,571.2 942.7,571.6 944.6,571.9C946.6,572.2 948.5,572.3 950.5,572.5L950.5,628.0L134.5,628.0Z" fill="url(#gv)"/><g clip-path="url(#cv)" stroke="#c07cd8" stroke-opacity="0.25" stroke-width="3.6"><line x1="180.5" y1="160" x2="180.5" y2="628.0"/><line x1="283.5" y1="160" x2="283.5" y2="628.0"/><line x1="386.5" y1="160" x2="386.5" y2="628.0"/><line x1="489.5" y1="160" x2="489.5" y2="628.0"/><line x1="592.5" y1="160" x2="592.5" y2="628.0"/><line x1="695.5" y1="160" x2="695.5" y2="628.0"/><line x1="798.5" y1="160" x2="798.5" y2="628.0"/><line x1="901.5" y1="160" x2="901.5" y2="628.0"/><line x1="134.5" y1="207.7" x2="950.5" y2="207.7"/><line x1="134.5" y1="277.7" x2="950.5" y2="277.7"/><line x1="134.5" y1="347.7" x2="950.5" y2="347.7"/><line x1="134.5" y1="417.7" x2="950.5" y2="417.7"/><line x1="134.5" y1="487.7" x2="950.5" y2="487.7"/><line x1="134.5" y1="557.7" x2="950.5" y2="557.7"/></g>
<path d="M134.5,585.0C136.5,584.7 138.4,584.4 140.4,584.1C142.3,583.9 144.3,583.7 146.2,583.5C148.2,583.3 150.2,583.1 152.1,582.9C154.1,582.7 156.0,582.6 158.0,582.4C159.9,582.2 161.9,582.0 163.9,581.8C165.8,581.7 167.8,581.4 169.7,581.2C171.7,580.9 173.6,580.7 175.6,580.4C177.6,580.1 179.5,579.8 181.5,579.5C183.4,579.1 185.4,578.7 187.3,578.3C189.3,577.9 191.2,577.5 193.2,577.1C195.2,576.6 197.1,576.1 199.1,575.6C201.0,575.1 203.0,574.5 204.9,573.9C206.9,573.3 208.9,572.7 210.8,572.1C212.8,571.4 214.7,570.7 216.7,570.0C218.6,569.3 220.6,568.6 222.6,567.8C224.5,567.0 226.5,566.2 228.4,565.4C230.4,564.6 232.3,563.7 234.3,562.9C236.3,562.1 238.2,561.2 240.2,560.4C242.1,559.6 244.1,558.8 246.0,558.0C248.0,557.2 250.0,556.5 251.9,555.8C253.9,555.1 255.8,554.4 257.8,553.8C259.7,553.2 261.7,552.6 263.7,552.0C265.6,551.5 267.6,551.0 269.5,550.5C271.5,550.0 273.4,549.6 275.4,549.2C277.3,548.8 279.3,548.4 281.3,548.0C283.2,547.7 285.2,547.3 287.1,547.0C289.1,546.7 291.0,546.4 293.0,546.2C295.0,545.9 296.9,545.7 298.9,545.4C300.8,545.2 302.8,545.0 304.7,544.8C306.7,544.7 308.7,544.5 310.6,544.4C312.6,544.2 314.5,544.1 316.5,544.0C318.4,543.9 320.4,543.8 322.4,543.8C324.3,543.7 326.3,543.7 328.2,543.7C330.2,543.7 332.1,543.8 334.1,543.8C336.1,543.9 338.0,544.0 340.0,544.1C341.9,544.2 343.9,544.4 345.8,544.5C347.8,544.7 349.8,544.9 351.7,545.2C353.7,545.4 355.6,545.7 357.6,546.0C359.5,546.3 361.5,546.6 363.4,546.9C365.4,547.3 367.4,547.7 369.3,548.1C371.3,548.4 373.2,548.9 375.2,549.3C377.1,549.8 379.1,550.2 381.1,550.8C383.0,551.3 385.0,551.8 386.9,552.4C388.9,553.0 390.8,553.7 392.8,554.4C394.8,555.1 396.7,555.8 398.7,556.6C400.6,557.4 402.6,558.2 404.5,559.1C406.5,560.0 408.5,560.9 410.4,561.8C412.4,562.7 414.3,563.5 416.3,564.4C418.2,565.2 420.2,565.9 422.2,566.6C424.1,567.3 426.1,567.9 428.0,568.3C430.0,568.8 431.9,569.1 433.9,569.3C435.9,569.5 437.8,569.6 439.8,569.5C441.7,569.4 443.7,569.2 445.6,568.8C447.6,568.4 449.6,567.8 451.5,567.1C453.5,566.4 455.4,565.5 457.4,564.5C459.3,563.4 461.3,562.2 463.2,560.8C465.2,559.4 467.2,557.9 469.1,556.2C471.1,554.5 473.0,552.6 475.0,550.6C476.9,548.7 478.9,546.6 480.9,544.3C482.8,542.1 484.8,539.8 486.7,537.3C488.7,534.9 490.6,532.3 492.6,529.8C494.6,527.2 496.5,524.7 498.5,522.2C500.4,519.7 502.4,517.2 504.3,514.8C506.3,512.4 508.3,510.1 510.2,507.9C512.2,505.7 514.1,503.5 516.1,501.6C518.0,499.6 520.0,497.8 522.0,496.3C523.9,494.7 525.9,493.3 527.8,492.0C529.8,490.8 531.7,489.7 533.7,488.8C535.7,487.8 537.6,487.0 539.6,486.3C541.5,485.7 543.5,485.1 545.4,484.6C547.4,484.2 549.3,483.8 551.3,483.6C553.3,483.3 555.2,483.1 557.2,483.1C559.1,483.0 561.1,483.0 563.0,483.1C565.0,483.2 567.0,483.4 568.9,483.7C570.9,483.9 572.8,484.3 574.8,484.7C576.7,485.1 578.7,485.6 580.7,486.2C582.6,486.7 584.6,487.4 586.5,488.1C588.5,488.8 590.4,489.7 592.4,490.6C594.4,491.5 596.3,492.5 598.3,493.6C600.2,494.7 602.2,496.0 604.1,497.3C606.1,498.6 608.1,500.0 610.0,501.6C612.0,503.1 613.9,504.8 615.9,506.5C617.8,508.3 619.8,510.2 621.8,512.1C623.7,514.1 625.7,516.1 627.6,518.3C629.6,520.5 631.5,522.7 633.5,525.1C635.4,527.4 637.4,529.9 639.4,532.3C641.3,534.8 643.3,537.3 645.2,539.8C647.2,542.3 649.1,544.7 651.1,547.1C653.1,549.4 655.0,551.7 657.0,553.7C658.9,555.8 660.9,557.6 662.8,559.3C664.8,560.9 666.8,562.4 668.7,563.6C670.7,564.9 672.6,566.0 674.6,566.9C676.5,567.8 678.5,568.6 680.5,569.3C682.4,569.9 684.4,570.4 686.3,570.8C688.3,571.1 690.2,571.3 692.2,571.4C694.2,571.5 696.1,571.5 698.1,571.3C700.0,571.1 702.0,570.9 703.9,570.5C705.9,570.1 707.9,569.6 709.8,569.0C711.8,568.4 713.7,567.7 715.7,566.9C717.6,566.1 719.6,565.3 721.6,564.3C723.5,563.3 725.5,562.2 727.4,561.1C729.4,560.0 731.3,558.8 733.3,557.5C735.2,556.2 737.2,554.9 739.2,553.6C741.1,552.2 743.1,550.8 745.0,549.4C747.0,548.0 748.9,546.6 750.9,545.1C752.9,543.7 754.8,542.2 756.8,540.8C758.7,539.4 760.7,537.9 762.6,536.5C764.6,535.1 766.6,533.8 768.5,532.4C770.5,531.1 772.4,529.8 774.4,528.6C776.3,527.4 778.3,526.2 780.3,525.1C782.2,524.0 784.2,523.0 786.1,522.1C788.1,521.1 790.0,520.3 792.0,519.5C794.0,518.7 795.9,518.0 797.9,517.3C799.8,516.7 801.8,516.1 803.7,515.5C805.7,515.0 807.7,514.6 809.6,514.2C811.6,513.8 813.5,513.5 815.5,513.2C817.4,513.0 819.4,512.8 821.3,512.7C823.3,512.5 825.3,512.5 827.2,512.5C829.2,512.5 831.1,512.5 833.1,512.7C835.0,512.8 837.0,513.0 839.0,513.2C840.9,513.5 842.9,513.8 844.8,514.2C846.8,514.5 848.7,515.0 850.7,515.5C852.7,516.0 854.6,516.6 856.6,517.2C858.5,517.9 860.5,518.6 862.4,519.4C864.4,520.2 866.4,521.1 868.3,522.0C870.3,523.0 872.2,524.0 874.2,525.1C876.1,526.2 878.1,527.4 880.1,528.7C882.0,530.0 884.0,531.3 885.9,532.7C887.9,534.1 889.8,535.6 891.8,537.1C893.8,538.7 895.7,540.3 897.7,542.0C899.6,543.7 901.6,545.4 903.5,547.2C905.5,549.0 907.4,550.8 909.4,552.5C911.4,554.3 913.3,556.0 915.3,557.6C917.2,559.3 919.2,560.8 921.1,562.2C923.1,563.7 925.1,564.9 927.0,566.0C929.0,567.1 930.9,568.1 932.9,568.8C934.8,569.6 936.8,570.2 938.8,570.7C940.7,571.2 942.7,571.6 944.6,571.9C946.6,572.2 948.5,572.3 950.5,572.5" fill="none" stroke="#b455e2" stroke-width="4.8"/>
<line x1="134.5" y1="628" x2="950.5" y2="628" stroke="#f4f0ff" stroke-width="1.6"/>
<text x="61.6" y="68.6" font-size="32" font-weight="bold" fill="#ececfa" textLength="280.4" lengthAdjust="spacingAndGlyphs">Ipsam voluptatem</text>
<text x="61.2" y="103.8" font-size="23.5" font-weight="normal" fill="#f0506e" textLength="145.2" lengthAdjust="spacingAndGlyphs">Quia voluptas</text>
<rect x="749.2" y="28.8" width="209.6" height="64.6" fill="#10183e" stroke="#c6c6c4" stroke-width="2.4"/>
<text x="791.5" y="71.3" font-size="29" font-weight="normal" fill="#eeeefc" textLength="116.0" lengthAdjust="spacingAndGlyphs">ACTIVITY</text>
<text x="48.0" y="210.0" font-size="29.0" font-weight="normal" fill="#eeeefc" textLength="54.7" lengthAdjust="spacingAndGlyphs">SUN</text><text x="52.0" y="278.0" font-size="29.0" font-weight="normal" fill="#eeeefc" textLength="47.5" lengthAdjust="spacingAndGlyphs">SAT</text><text x="56.9" y="347.7" font-size="29.0" font-weight="normal" fill="#eeeefc" textLength="37.8" lengthAdjust="spacingAndGlyphs">FRI</text><text x="39.6" y="417.4" font-size="29.0" font-weight="normal" fill="#eeeefc" textLength="72.1" lengthAdjust="spacingAndGlyphs">THUR</text><text x="44.6" y="488.3" font-size="29.0" font-weight="normal" fill="#eeeefc" textLength="61.4" lengthAdjust="spacingAndGlyphs">WED</text><text x="43.0" y="563.7" font-size="29.0" font-weight="normal" fill="#eeeefc" textLength="64.5" lengthAdjust="spacingAndGlyphs">TUES</text><text x="43.0" y="627.0" font-size="29.0" font-weight="normal" fill="#eeeefc" textLength="64.5" lengthAdjust="spacingAndGlyphs">MON</text><text x="155.8" y="683.6" font-size="27.5" font-weight="normal" fill="#eeeefc" textLength="63.9" lengthAdjust="spacingAndGlyphs">2018</text><text x="260.8" y="683.6" font-size="27.5" font-weight="normal" fill="#eeeefc" textLength="63.9" lengthAdjust="spacingAndGlyphs">2019</text><text x="357.4" y="683.6" font-size="27.5" font-weight="normal" fill="#eeeefc" textLength="63.1" lengthAdjust="spacingAndGlyphs">2020</text><text x="457.4" y="683.6" font-size="27.5" font-weight="normal" fill="#eeeefc" textLength="60.5" lengthAdjust="spacingAndGlyphs">2021</text><text x="565.0" y="683.6" font-size="27.5" font-weight="normal" fill="#eeeefc" textLength="63.6" lengthAdjust="spacingAndGlyphs">2022</text><text x="671.3" y="683.6" font-size="27.5" font-weight="normal" fill="#eeeefc" textLength="63.1" lengthAdjust="spacingAndGlyphs">2023</text><text x="777.1" y="683.6" font-size="27.5" font-weight="normal" fill="#eeeefc" textLength="63.6" lengthAdjust="spacingAndGlyphs">2024</text><text x="874.2" y="683.6" font-size="27.5" font-weight="normal" fill="#eeeefc" textLength="63.0" lengthAdjust="spacingAndGlyphs">2025</text>
<rect x="0" y="711" width="1000" height="80" fill="#14142a"/>
<text x="29.0" y="765.0" font-size="37" font-weight="normal" fill="#ffffff" textLength="92.5" lengthAdjust="spacingAndGlyphs" stroke="#14142a" stroke-width="1.1">Vector</text>
<text x="125.0" y="765.0" font-size="37" font-weight="bold" fill="#ffffff" textLength="85.0" lengthAdjust="spacingAndGlyphs" stroke="#14142a" stroke-width="0.5">Stock</text>
<text x="210.0" y="749.0" font-size="13" font-weight="normal" fill="#ffffff" textLength="11.5" lengthAdjust="spacingAndGlyphs">&#174;</text>
<text x="726.0" y="764.2" font-size="20" font-weight="normal" fill="#f4f4f8" textLength="246.0" lengthAdjust="spacingAndGlyphs">VectorStock.com/42123765</text>
</svg>
</body></html>
